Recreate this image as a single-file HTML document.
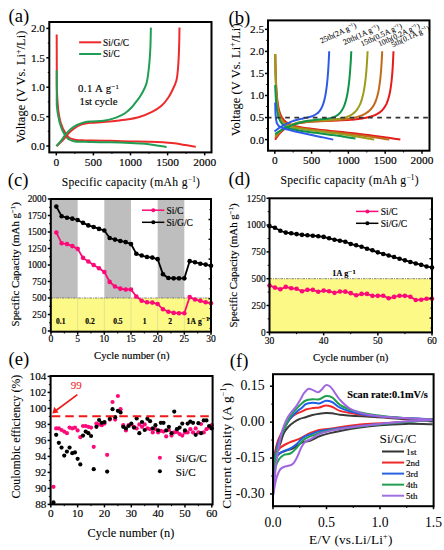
<!DOCTYPE html>
<html><head><meta charset="utf-8"><style>
html,body{margin:0;padding:0;background:#fff;width:444px;height:550px;overflow:hidden}
svg{display:block}
text{font-family:"Liberation Serif", serif;stroke:currentColor}
</style></head><body>
<svg width="444" height="550" viewBox="0 0 444 550">
<rect width="444" height="550" fill="#fff"/>
<path d="M56.70,34.50 C56.73,46.33 56.76,59.85 56.80,70.00 C56.83,77.62 56.63,83.19 56.90,90.00 C57.18,97.11 57.68,105.80 58.50,111.80 C59.09,116.08 59.58,119.22 60.70,122.70 C61.80,126.12 63.46,129.78 65.10,132.50 C66.42,134.69 67.57,136.77 69.40,138.00 C71.21,139.22 73.62,139.49 76.00,139.90 C78.68,140.36 81.93,140.30 84.70,140.40 C87.24,140.49 89.02,140.46 92.00,140.50 C96.72,140.57 104.05,140.66 110.30,140.80 C116.87,140.95 123.83,141.23 130.50,141.40 C137.06,141.56 143.31,141.53 150.00,141.80 C157.11,142.08 165.57,142.44 172.00,143.10 C177.06,143.62 181.32,144.42 185.50,145.10 C189.14,145.69 192.30,146.30 195.70,146.90" fill="none" stroke="#ee2a2a" stroke-width="2"/>
<path d="M56.70,70.20 C56.73,76.80 56.76,83.72 56.80,90.00 C56.83,95.70 56.53,101.42 56.90,106.30 C57.21,110.31 57.82,113.78 58.50,117.20 C59.11,120.31 59.75,123.21 60.70,126.00 C61.60,128.67 62.65,131.36 64.00,133.60 C65.23,135.64 66.58,137.72 68.30,139.00 C69.89,140.18 71.61,140.72 73.80,141.20 C76.77,141.86 81.43,141.64 84.70,141.80 C87.38,141.93 89.02,142.02 92.00,142.10 C96.72,142.22 104.05,142.16 110.30,142.30 C116.87,142.45 124.32,142.72 130.50,143.00 C135.73,143.24 140.26,143.32 145.00,143.80 C149.59,144.27 154.57,145.24 158.50,145.80 C161.54,146.23 163.90,146.53 166.60,146.90" fill="none" stroke="#1f9e54" stroke-width="2"/>
<path d="M56.40,146.10 C58.57,144.10 60.90,142.21 62.90,140.10 C64.86,138.04 66.42,135.55 68.30,133.60 C70.06,131.78 71.81,130.14 73.80,128.70 C75.81,127.24 78.06,125.82 80.30,124.90 C82.43,124.02 84.83,123.57 86.90,123.20 C88.70,122.88 89.96,122.86 92.00,122.70 C95.06,122.46 99.52,122.31 103.50,122.00 C107.82,121.66 113.09,121.11 117.00,120.70 C120.01,120.39 122.00,120.25 125.00,119.80 C128.92,119.22 134.06,118.58 138.50,117.30 C143.07,115.98 147.98,113.97 152.00,111.90 C155.54,110.08 158.77,108.22 161.50,105.80 C164.14,103.46 166.32,100.45 168.20,97.70 C169.93,95.18 171.18,92.74 172.50,90.00 C173.93,87.04 175.46,84.10 176.40,80.50 C177.54,76.14 177.76,70.75 178.20,65.50 C178.69,59.73 178.88,53.49 179.10,47.30 C179.32,40.86 179.37,34.17 179.50,27.60" fill="none" stroke="#ee2a2a" stroke-width="2"/>
<path d="M56.40,146.10 C57.83,144.47 59.30,142.95 60.70,141.20 C62.20,139.33 63.51,137.16 65.10,135.20 C66.76,133.16 68.49,130.92 70.50,129.20 C72.49,127.50 74.75,126.06 77.10,124.90 C79.48,123.72 82.16,122.78 84.70,122.20 C87.13,121.64 89.29,121.63 92.00,121.40 C95.40,121.11 99.87,121.21 103.50,120.70 C106.84,120.23 110.00,119.54 113.00,118.60 C115.85,117.71 118.91,116.33 121.10,115.30 C122.66,114.57 123.58,114.19 125.00,113.20 C127.03,111.79 129.75,109.36 131.80,107.20 C133.81,105.09 135.59,102.56 137.20,100.40 C138.61,98.52 139.72,97.20 141.00,95.00 C142.77,91.96 145.08,87.95 146.40,83.60 C147.99,78.36 148.43,71.55 149.10,65.50 C149.77,59.45 150.10,53.49 150.40,47.30 C150.71,40.87 150.73,34.17 150.90,27.60" fill="none" stroke="#1f9e54" stroke-width="2"/>
<rect x="49.3" y="22" width="162.2" height="130.4" fill="none" stroke="#000" stroke-width="2"/>
<line x1="46.30" y1="146.00" x2="49.30" y2="146.00" stroke="#000" stroke-width="1.5"/>
<text x="45.00" y="149.90" font-size="11.3" text-anchor="end" font-weight="normal" fill="#000" color="#000" stroke-width="0.15" >0.0</text>
<line x1="46.30" y1="116.60" x2="49.30" y2="116.60" stroke="#000" stroke-width="1.5"/>
<text x="45.00" y="120.50" font-size="11.3" text-anchor="end" font-weight="normal" fill="#000" color="#000" stroke-width="0.15" >0.5</text>
<line x1="46.30" y1="87.20" x2="49.30" y2="87.20" stroke="#000" stroke-width="1.5"/>
<text x="45.00" y="91.10" font-size="11.3" text-anchor="end" font-weight="normal" fill="#000" color="#000" stroke-width="0.15" >1.0</text>
<line x1="46.30" y1="57.80" x2="49.30" y2="57.80" stroke="#000" stroke-width="1.5"/>
<text x="45.00" y="61.70" font-size="11.3" text-anchor="end" font-weight="normal" fill="#000" color="#000" stroke-width="0.15" >1.5</text>
<line x1="46.30" y1="28.40" x2="49.30" y2="28.40" stroke="#000" stroke-width="1.5"/>
<text x="45.00" y="32.30" font-size="11.3" text-anchor="end" font-weight="normal" fill="#000" color="#000" stroke-width="0.15" >2.0</text>
<line x1="47.80" y1="131.30" x2="49.30" y2="131.30" stroke="#000" stroke-width="1"/>
<line x1="47.80" y1="101.90" x2="49.30" y2="101.90" stroke="#000" stroke-width="1"/>
<line x1="47.80" y1="72.50" x2="49.30" y2="72.50" stroke="#000" stroke-width="1"/>
<line x1="47.80" y1="43.10" x2="49.30" y2="43.10" stroke="#000" stroke-width="1"/>
<line x1="56.30" y1="152.40" x2="56.30" y2="155.40" stroke="#000" stroke-width="1.5"/>
<text x="56.30" y="166.40" font-size="11.4" text-anchor="middle" font-weight="normal" fill="#000" color="#000" stroke-width="0.15" >0</text>
<line x1="93.40" y1="152.40" x2="93.40" y2="155.40" stroke="#000" stroke-width="1.5"/>
<text x="93.40" y="166.40" font-size="11.4" text-anchor="middle" font-weight="normal" fill="#000" color="#000" stroke-width="0.15" >500</text>
<line x1="130.50" y1="152.40" x2="130.50" y2="155.40" stroke="#000" stroke-width="1.5"/>
<text x="130.50" y="166.40" font-size="11.4" text-anchor="middle" font-weight="normal" fill="#000" color="#000" stroke-width="0.15" >1000</text>
<line x1="167.60" y1="152.40" x2="167.60" y2="155.40" stroke="#000" stroke-width="1.5"/>
<text x="167.60" y="166.40" font-size="11.4" text-anchor="middle" font-weight="normal" fill="#000" color="#000" stroke-width="0.15" >1500</text>
<line x1="204.70" y1="152.40" x2="204.70" y2="155.40" stroke="#000" stroke-width="1.5"/>
<text x="204.70" y="166.40" font-size="11.4" text-anchor="middle" font-weight="normal" fill="#000" color="#000" stroke-width="0.15" >2000</text>
<line x1="74.85" y1="152.40" x2="74.85" y2="153.90" stroke="#000" stroke-width="1"/>
<line x1="111.95" y1="152.40" x2="111.95" y2="153.90" stroke="#000" stroke-width="1"/>
<line x1="149.05" y1="152.40" x2="149.05" y2="153.90" stroke="#000" stroke-width="1"/>
<line x1="186.15" y1="152.40" x2="186.15" y2="153.90" stroke="#000" stroke-width="1"/>
<line x1="79.10" y1="42.30" x2="101.20" y2="42.30" stroke="#ee2a2a" stroke-width="2"/>
<text x="103.10" y="45.80" font-size="9.3" text-anchor="start" font-weight="normal" fill="#000" color="#000" stroke-width="0.15" >Si/G/C</text>
<line x1="79.10" y1="54.00" x2="101.20" y2="54.00" stroke="#1f9e54" stroke-width="2"/>
<text x="103.10" y="57.10" font-size="9.3" text-anchor="start" font-weight="normal" fill="#000" color="#000" stroke-width="0.15" >Si/C</text>
<text x="78.10" y="92.40" font-size="10.8" text-anchor="start" font-weight="normal" fill="#000" stroke-width="0.15" letter-spacing="0.35">0.1 A g<tspan dy="-3.9" font-size="6.7">&#8722;1</tspan><tspan dy="3.9"></tspan></text>
<text x="79.50" y="104.80" font-size="10.8" text-anchor="start" font-weight="normal" fill="#000" color="#000" stroke-width="0.15" >1st cycle</text>
<text x="61.70" y="185.90" font-size="11.6" text-anchor="start" font-weight="normal" fill="#000" stroke-width="0.08" letter-spacing="0.33">Specific capacity (mAh g<tspan dy="-4.2" font-size="7.2">&#8722;1</tspan><tspan dy="4.2">)</tspan></text>
<text transform="translate(25.30,143.00) rotate(-90)" x="0" y="0" font-size="12.4" text-anchor="start" font-weight="normal" fill="#000" stroke-width="0.08" letter-spacing="0.1">Voltage (V Vs. Li<tspan dy="-4.5" font-size="7.7">+</tspan><tspan dy="4.5">/Li)</tspan></text>
<text x="8.60" y="22.30" font-size="18.7" text-anchor="start" font-weight="normal" fill="#000" color="#000" stroke-width="0" >(a)</text>
<path d="M275.20,54.06 C275.20,54.06 275.20,54.07 275.20,54.07 C275.20,54.07 275.20,54.08 275.20,54.08 C275.20,54.09 275.20,54.09 275.20,54.10 C275.20,54.11 275.20,54.11 275.20,54.12 C275.20,54.13 275.20,54.15 275.20,54.16 C275.20,54.17 275.20,54.19 275.20,54.20 C275.20,54.22 275.20,54.23 275.20,54.25 C275.20,54.27 275.21,54.29 275.21,54.31 C275.21,54.34 275.21,54.37 275.21,54.40 C275.21,54.43 275.21,54.47 275.21,54.51 C275.21,54.55 275.21,54.60 275.21,54.65 C275.21,54.71 275.22,54.77 275.22,54.83 C275.22,54.90 275.22,54.98 275.22,55.06 C275.22,55.15 275.23,55.25 275.23,55.36 C275.23,55.48 275.23,55.61 275.23,55.74 C275.23,55.89 275.24,56.05 275.24,56.22 C275.25,56.41 275.26,56.61 275.26,56.83 C275.27,57.07 275.27,57.34 275.27,57.61 C275.28,57.92 275.28,58.24 275.29,58.58 C275.30,58.97 275.31,59.38 275.32,59.81 C275.33,60.29 275.34,60.79 275.35,61.32 C275.36,61.91 275.37,62.53 275.39,63.18 C275.41,63.90 275.43,64.65 275.45,65.44 C275.47,66.30 275.49,67.20 275.52,68.13 C275.55,69.14 275.58,70.21 275.62,71.30 C275.66,72.47 275.70,73.68 275.74,74.93 C275.79,76.25 275.83,77.62 275.89,79.01 C275.95,80.46 276.01,81.96 276.09,83.47 C276.17,85.02 276.25,86.61 276.35,88.20 C276.45,89.81 276.55,91.44 276.68,93.06 C276.80,94.68 276.93,96.31 277.10,97.91 C277.26,99.49 277.45,101.06 277.66,102.59 C277.87,104.07 278.08,105.54 278.36,106.96 C278.63,108.32 278.92,109.66 279.28,110.94 C279.62,112.16 280.00,113.35 280.46,114.47 C280.90,115.54 281.39,116.58 281.98,117.53 C282.56,118.46 283.20,119.34 283.94,120.14 C284.69,120.95 285.53,121.68 286.46,122.33 C287.44,123.02 288.45,123.58 289.72,124.15 C291.35,124.88 293.58,125.59 295.54,126.13 C297.47,126.66 299.42,127.01 301.37,127.37 C303.31,127.73 305.25,128.00 307.19,128.28 C309.13,128.55 311.07,128.79 313.01,129.02 C314.95,129.25 316.90,129.46 318.84,129.67 C320.78,129.88 322.72,130.09 324.66,130.29 C326.60,130.49 328.54,130.68 330.48,130.88 C332.42,131.08 334.37,131.28 336.31,131.48 C338.25,131.68 340.19,131.88 342.13,132.08 C344.07,132.29 346.01,132.50 347.95,132.71 C349.89,132.92 351.84,133.13 353.78,133.35 C355.72,133.57 357.66,133.79 359.60,134.02 C361.54,134.25 363.48,134.48 365.42,134.72 C367.36,134.96 369.31,135.19 371.25,135.44 C373.19,135.69 375.13,135.94 377.07,136.20 C379.01,136.46 380.95,136.73 382.89,137.00 C384.83,137.27 386.78,137.55 388.72,137.83 C390.66,138.11 392.60,138.40 394.54,138.69 C396.48,138.98 398.42,139.29 400.36,139.59" fill="none" stroke="#e51c1c" stroke-width="2"/>
<path d="M275.10,139.70 C276.42,137.82 277.66,135.72 279.05,134.06 C280.31,132.56 281.64,131.26 283.01,130.11 C284.28,129.04 285.61,128.14 286.96,127.34 C288.25,126.58 289.58,125.95 290.92,125.40 C292.22,124.86 293.54,124.43 294.87,124.04 C296.18,123.66 297.51,123.36 298.83,123.09 C300.14,122.82 301.46,122.61 302.78,122.42 C304.09,122.23 305.41,122.09 306.73,121.95 C308.05,121.82 309.37,121.71 310.69,121.61 C312.01,121.51 313.32,121.43 314.64,121.36 C315.96,121.29 317.28,121.23 318.60,121.17 C319.92,121.11 321.23,121.06 322.55,121.01 C323.87,120.96 325.18,120.91 326.50,120.87 C327.82,120.82 329.14,120.79 330.46,120.74 C331.78,120.70 333.09,120.65 334.41,120.60 C335.73,120.55 337.05,120.50 338.37,120.44 C339.69,120.38 341.00,120.33 342.32,120.26 C343.64,120.19 344.96,120.12 346.28,120.04 C347.60,119.96 348.91,119.87 350.23,119.77 C351.55,119.67 352.86,119.57 354.18,119.44 C355.50,119.31 356.82,119.17 358.14,119.01 C359.46,118.85 360.77,118.68 362.09,118.47 C363.41,118.26 364.73,118.04 366.05,117.76 C367.37,117.48 369.18,117.03 370.00,116.81 C370.37,116.71 370.54,116.65 370.81,116.57 C371.08,116.49 371.35,116.41 371.62,116.32 C371.89,116.23 372.16,116.14 372.43,116.05 C372.70,115.96 372.97,115.86 373.24,115.76 C373.51,115.66 373.78,115.55 374.05,115.44 C374.32,115.33 374.59,115.22 374.86,115.10 C375.13,114.98 375.40,114.87 375.67,114.74 C375.94,114.61 376.21,114.48 376.48,114.34 C376.75,114.20 377.02,114.05 377.29,113.90 C377.56,113.75 377.83,113.59 378.10,113.42 C378.37,113.25 378.64,113.08 378.91,112.90 C379.18,112.72 379.45,112.53 379.72,112.33 C379.99,112.13 380.26,111.91 380.53,111.69 C380.80,111.46 381.07,111.23 381.34,110.99 C381.62,110.74 381.89,110.48 382.16,110.20 C382.44,109.92 382.70,109.62 382.97,109.31 C383.25,108.99 383.52,108.65 383.78,108.30 C384.06,107.94 384.33,107.56 384.59,107.16 C384.87,106.74 385.14,106.30 385.40,105.84 C385.68,105.35 385.95,104.85 386.21,104.31 C386.49,103.74 386.76,103.14 387.02,102.51 C387.30,101.83 387.57,101.12 387.83,100.37 C388.11,99.55 388.38,98.69 388.64,97.77 C388.92,96.76 389.19,95.70 389.45,94.56 C389.74,93.29 390.01,91.95 390.26,90.50 C390.55,88.85 390.82,87.10 391.07,85.19 C391.36,82.97 391.63,80.60 391.88,77.97 C392.18,74.82 392.44,71.42 392.69,67.57 C393.00,62.76 393.23,56.74 393.50,51.32" fill="none" stroke="#e51c1c" stroke-width="2"/>
<path d="M275.20,54.05 C275.20,54.06 275.20,54.06 275.20,54.07 C275.20,54.07 275.20,54.08 275.20,54.08 C275.20,54.09 275.20,54.10 275.20,54.11 C275.20,54.12 275.20,54.13 275.20,54.14 C275.20,54.15 275.20,54.16 275.20,54.17 C275.20,54.18 275.20,54.20 275.20,54.22 C275.20,54.24 275.20,54.26 275.20,54.28 C275.20,54.30 275.21,54.33 275.21,54.36 C275.21,54.39 275.21,54.43 275.21,54.47 C275.21,54.51 275.21,54.55 275.21,54.60 C275.21,54.65 275.21,54.71 275.21,54.77 C275.21,54.84 275.22,54.91 275.22,54.99 C275.22,55.08 275.22,55.17 275.22,55.27 C275.22,55.38 275.23,55.50 275.23,55.62 C275.23,55.76 275.23,55.92 275.23,56.08 C275.23,56.26 275.24,56.46 275.24,56.66 C275.25,56.89 275.26,57.13 275.26,57.39 C275.27,57.68 275.27,57.99 275.27,58.31 C275.28,58.67 275.28,59.06 275.29,59.47 C275.30,59.92 275.31,60.41 275.32,60.91 C275.33,61.47 275.34,62.06 275.35,62.68 C275.36,63.36 275.37,64.08 275.39,64.83 C275.41,65.65 275.43,66.51 275.45,67.41 C275.47,68.38 275.49,69.41 275.52,70.46 C275.55,71.59 275.58,72.77 275.62,73.98 C275.66,75.26 275.70,76.59 275.74,77.95 C275.79,79.37 275.83,80.84 275.89,82.32 C275.95,83.85 276.01,85.42 276.09,86.99 C276.17,88.59 276.25,90.22 276.35,91.83 C276.45,93.45 276.55,95.07 276.68,96.68 C276.80,98.27 276.93,99.86 277.10,101.41 C277.26,102.92 277.44,104.41 277.66,105.86 C277.87,107.25 278.08,108.62 278.36,109.94 C278.63,111.20 278.92,112.43 279.28,113.59 C279.62,114.69 280.00,115.76 280.46,116.76 C280.90,117.72 281.39,118.64 281.98,119.48 C282.56,120.31 283.20,121.08 283.94,121.78 C284.69,122.49 285.54,123.13 286.46,123.70 C287.45,124.31 288.48,124.82 289.72,125.31 C291.24,125.92 293.20,126.49 294.96,126.94 C296.70,127.39 298.46,127.71 300.21,128.03 C301.95,128.35 303.70,128.60 305.45,128.86 C307.20,129.12 308.94,129.35 310.69,129.57 C312.44,129.79 314.18,130.00 315.93,130.20 C317.68,130.40 319.43,130.59 321.18,130.79 C322.93,130.99 324.67,131.18 326.42,131.38 C328.17,131.57 329.91,131.77 331.66,131.96 C333.41,132.15 335.15,132.34 336.90,132.54 C338.65,132.74 340.40,132.95 342.15,133.15 C343.90,133.35 345.64,133.55 347.39,133.76 C349.14,133.97 350.88,134.18 352.63,134.40 C354.38,134.62 356.12,134.85 357.87,135.07 C359.62,135.30 361.37,135.52 363.12,135.75 C364.87,135.98 366.61,136.23 368.36,136.47 C370.11,136.71 371.85,136.96 373.60,137.21 C375.35,137.46 377.09,137.72 378.84,137.98 C380.59,138.24 382.34,138.51 384.09,138.78 C385.84,139.05 387.58,139.33 389.33,139.61" fill="none" stroke="#c26a1a" stroke-width="2"/>
<path d="M275.10,137.89 C276.29,136.32 277.43,134.57 278.68,133.18 C279.82,131.91 281.03,130.81 282.26,129.83 C283.41,128.91 284.61,128.13 285.83,127.44 C287.00,126.77 288.20,126.22 289.41,125.73 C290.59,125.25 291.79,124.86 292.99,124.50 C294.17,124.15 295.36,123.87 296.56,123.61 C297.75,123.35 298.94,123.15 300.14,122.96 C301.33,122.77 302.53,122.62 303.72,122.48 C304.91,122.34 306.11,122.22 307.30,122.11 C308.49,122.00 309.69,121.90 310.88,121.81 C312.07,121.72 313.26,121.65 314.45,121.57 C315.64,121.49 316.84,121.42 318.03,121.35 C319.22,121.28 320.42,121.22 321.61,121.15 C322.80,121.08 323.99,121.01 325.18,120.94 C326.37,120.87 327.57,120.80 328.76,120.72 C329.95,120.64 331.15,120.57 332.34,120.48 C333.53,120.39 334.73,120.30 335.92,120.20 C337.11,120.10 338.31,120.00 339.50,119.88 C340.69,119.76 341.88,119.64 343.07,119.50 C344.26,119.36 345.46,119.21 346.65,119.04 C347.84,118.87 349.04,118.69 350.23,118.48 C351.42,118.27 352.61,118.04 353.80,117.77 C355.00,117.50 356.19,117.22 357.38,116.87 C358.58,116.52 360.22,115.95 360.96,115.68 C361.30,115.56 361.45,115.49 361.69,115.39 C361.93,115.29 362.18,115.19 362.42,115.08 C362.67,114.97 362.91,114.86 363.16,114.75 C363.40,114.64 363.65,114.52 363.89,114.40 C364.13,114.28 364.38,114.15 364.62,114.02 C364.86,113.89 365.11,113.75 365.35,113.61 C365.60,113.47 365.85,113.32 366.09,113.17 C366.34,113.02 366.58,112.86 366.82,112.69 C367.06,112.52 367.31,112.35 367.55,112.17 C367.79,111.99 368.04,111.80 368.28,111.61 C368.53,111.41 368.78,111.21 369.02,111.00 C369.27,110.79 369.51,110.56 369.75,110.33 C370.00,110.09 370.24,109.85 370.48,109.59 C370.73,109.33 370.97,109.05 371.21,108.77 C371.46,108.48 371.71,108.18 371.95,107.86 C372.20,107.53 372.44,107.19 372.68,106.84 C372.93,106.48 373.17,106.10 373.41,105.71 C373.66,105.30 373.90,104.87 374.14,104.42 C374.39,103.95 374.64,103.46 374.88,102.95 C375.13,102.41 375.37,101.84 375.61,101.25 C375.86,100.62 376.11,99.97 376.34,99.29 C376.59,98.55 376.83,97.78 377.07,96.97 C377.33,96.09 377.58,95.18 377.81,94.21 C378.07,93.15 378.31,92.04 378.54,90.86 C378.80,89.56 379.04,88.19 379.27,86.72 C379.53,85.07 379.77,83.33 380.00,81.45 C380.26,79.30 380.51,77.02 380.74,74.53 C381.01,71.62 381.25,68.50 381.47,65.05 C381.74,60.89 381.96,55.88 382.20,51.29" fill="none" stroke="#c26a1a" stroke-width="2"/>
<path d="M275.20,54.05 C275.20,54.06 275.20,54.06 275.20,54.07 C275.20,54.08 275.20,54.08 275.20,54.09 C275.20,54.10 275.20,54.11 275.20,54.12 C275.20,54.13 275.20,54.14 275.20,54.15 C275.20,54.16 275.20,54.18 275.20,54.20 C275.20,54.22 275.20,54.24 275.20,54.26 C275.20,54.28 275.20,54.30 275.20,54.33 C275.20,54.36 275.21,54.39 275.21,54.43 C275.21,54.47 275.21,54.51 275.21,54.56 C275.21,54.61 275.21,54.66 275.21,54.72 C275.21,54.79 275.21,54.86 275.21,54.93 C275.21,55.01 275.22,55.10 275.22,55.19 C275.22,55.30 275.22,55.41 275.22,55.53 C275.22,55.66 275.23,55.81 275.23,55.96 C275.23,56.13 275.23,56.32 275.23,56.51 C275.23,56.73 275.24,56.96 275.24,57.21 C275.25,57.49 275.26,57.78 275.26,58.09 C275.27,58.44 275.27,58.81 275.27,59.20 C275.28,59.63 275.28,60.09 275.29,60.57 C275.30,61.11 275.31,61.68 275.32,62.27 C275.33,62.93 275.34,63.62 275.35,64.34 C275.36,65.13 275.37,65.96 275.39,66.83 C275.41,67.77 275.43,68.77 275.45,69.79 C275.47,70.89 275.49,72.03 275.52,73.21 C275.55,74.46 275.58,75.77 275.62,77.10 C275.66,78.50 275.70,79.94 275.74,81.40 C275.79,82.91 275.83,84.47 275.89,86.03 C275.95,87.62 276.01,89.25 276.09,90.86 C276.17,92.48 276.25,94.12 276.35,95.74 C276.45,97.34 276.55,98.95 276.68,100.52 C276.80,102.05 276.93,103.58 277.10,105.06 C277.26,106.48 277.44,107.89 277.66,109.24 C277.87,110.53 278.08,111.79 278.36,112.99 C278.62,114.13 278.92,115.23 279.28,116.27 C279.62,117.25 280.00,118.20 280.46,119.08 C280.90,119.93 281.40,120.73 281.98,121.46 C282.56,122.18 283.21,122.84 283.94,123.44 C284.70,124.06 285.54,124.60 286.46,125.09 C287.46,125.62 288.53,126.06 289.72,126.47 C291.07,126.94 292.68,127.36 294.17,127.71 C295.65,128.06 297.13,128.33 298.62,128.59 C300.10,128.85 301.58,129.07 303.06,129.29 C304.54,129.51 306.03,129.71 307.51,129.91 C308.99,130.11 310.48,130.28 311.96,130.47 C313.44,130.65 314.93,130.84 316.41,131.02 C317.89,131.20 319.38,131.38 320.86,131.56 C322.34,131.74 323.82,131.93 325.30,132.11 C326.78,132.30 328.27,132.48 329.75,132.67 C331.23,132.86 332.72,133.05 334.20,133.24 C335.68,133.44 337.17,133.64 338.65,133.84 C340.13,134.04 341.61,134.25 343.09,134.46 C344.57,134.67 346.06,134.89 347.54,135.11 C349.02,135.33 350.51,135.56 351.99,135.79 C353.47,136.02 354.96,136.25 356.44,136.49 C357.92,136.73 359.40,136.98 360.88,137.23 C362.36,137.48 363.85,137.73 365.33,137.99 C366.81,138.25 368.30,138.52 369.78,138.79 C371.26,139.06 372.75,139.34 374.23,139.61" fill="none" stroke="#9c9c1c" stroke-width="2"/>
<path d="M275.10,136.03 C276.13,135.00 277.14,133.90 278.19,132.94 C279.20,132.02 280.23,131.17 281.28,130.38 C282.29,129.61 283.33,128.91 284.37,128.25 C285.39,127.61 286.42,127.03 287.46,126.49 C288.48,125.97 289.51,125.50 290.55,125.06 C291.57,124.63 292.61,124.24 293.65,123.89 C294.67,123.54 295.71,123.24 296.74,122.96 C297.77,122.68 298.80,122.43 299.83,122.21 C300.86,121.99 301.89,121.80 302.92,121.62 C303.95,121.45 304.98,121.30 306.01,121.16 C307.04,121.03 308.07,120.91 309.10,120.81 C310.13,120.71 311.16,120.62 312.19,120.54 C313.22,120.46 314.25,120.39 315.28,120.33 C316.31,120.27 317.34,120.22 318.37,120.17 C319.40,120.12 320.43,120.08 321.46,120.04 C322.49,120.00 323.52,119.96 324.55,119.92 C325.58,119.88 326.61,119.83 327.64,119.78 C328.67,119.73 329.71,119.68 330.74,119.62 C331.77,119.56 332.80,119.49 333.83,119.40 C334.86,119.31 335.89,119.21 336.92,119.09 C337.95,118.97 338.98,118.83 340.01,118.66 C341.04,118.49 342.07,118.29 343.10,118.05 C344.13,117.80 345.17,117.54 346.19,117.19 C347.23,116.84 348.64,116.23 349.28,115.95 C349.57,115.82 349.70,115.75 349.91,115.64 C350.12,115.53 350.33,115.42 350.54,115.30 C350.75,115.18 350.97,115.06 351.18,114.93 C351.39,114.80 351.60,114.68 351.81,114.54 C352.02,114.40 352.23,114.26 352.44,114.11 C352.65,113.96 352.86,113.80 353.07,113.64 C353.28,113.48 353.49,113.31 353.70,113.13 C353.91,112.95 354.12,112.77 354.33,112.58 C354.54,112.39 354.76,112.19 354.97,111.98 C355.18,111.77 355.39,111.55 355.60,111.32 C355.81,111.09 356.02,110.84 356.23,110.59 C356.44,110.33 356.65,110.07 356.86,109.79 C357.07,109.51 357.28,109.21 357.49,108.91 C357.70,108.60 357.91,108.27 358.12,107.94 C358.34,107.59 358.55,107.23 358.76,106.86 C358.98,106.47 359.18,106.07 359.39,105.66 C359.61,105.23 359.81,104.78 360.02,104.31 C360.24,103.82 360.45,103.32 360.65,102.79 C360.87,102.23 361.08,101.66 361.28,101.06 C361.50,100.43 361.70,99.78 361.91,99.10 C362.13,98.38 362.35,97.62 362.55,96.84 C362.77,96.00 362.98,95.13 363.18,94.22 C363.40,93.24 363.61,92.23 363.81,91.16 C364.03,90.00 364.24,88.79 364.44,87.52 C364.66,86.13 364.87,84.68 365.07,83.15 C365.29,81.46 365.50,79.69 365.70,77.81 C365.92,75.71 366.14,73.50 366.34,71.14 C366.57,68.47 366.77,65.64 366.97,62.59 C367.20,59.08 367.39,55.03 367.60,51.25" fill="none" stroke="#9c9c1c" stroke-width="2"/>
<path d="M275.20,84.92 C275.20,84.92 275.20,84.93 275.20,84.93 C275.20,84.93 275.20,84.93 275.20,84.93 C275.20,84.93 275.20,84.94 275.20,84.94 C275.20,84.95 275.20,84.95 275.20,84.96 C275.20,84.96 275.20,84.97 275.20,84.97 C275.20,84.98 275.20,84.99 275.20,85.00 C275.20,85.01 275.20,85.01 275.20,85.02 C275.20,85.03 275.21,85.05 275.21,85.06 C275.21,85.08 275.21,85.09 275.21,85.11 C275.21,85.13 275.21,85.15 275.21,85.17 C275.21,85.19 275.21,85.21 275.21,85.24 C275.21,85.27 275.22,85.30 275.22,85.34 C275.22,85.38 275.22,85.42 275.22,85.47 C275.22,85.52 275.23,85.57 275.23,85.63 C275.23,85.70 275.23,85.77 275.23,85.84 C275.23,85.92 275.24,86.01 275.24,86.10 C275.25,86.21 275.26,86.32 275.26,86.44 C275.27,86.57 275.27,86.72 275.27,86.87 C275.28,87.04 275.28,87.22 275.29,87.41 C275.30,87.62 275.31,87.84 275.32,88.08 C275.33,88.35 275.34,88.63 275.35,88.93 C275.36,89.26 275.37,89.61 275.39,89.97 C275.41,90.37 275.43,90.80 275.45,91.24 C275.47,91.73 275.49,92.24 275.52,92.77 C275.55,93.35 275.58,93.96 275.62,94.59 C275.66,95.27 275.70,95.97 275.74,96.70 C275.79,97.48 275.83,98.29 275.89,99.11 C275.95,99.97 276.02,100.87 276.09,101.77 C276.17,102.71 276.25,103.68 276.35,104.65 C276.45,105.64 276.56,106.65 276.68,107.65 C276.81,108.66 276.94,109.69 277.10,110.70 C277.26,111.71 277.45,112.72 277.66,113.70 C277.87,114.67 278.09,115.63 278.36,116.55 C278.63,117.45 278.92,118.34 279.28,119.18 C279.63,120.00 280.01,120.81 280.46,121.56 C280.91,122.30 281.41,123.00 281.98,123.65 C282.56,124.31 283.22,124.91 283.94,125.46 C284.70,126.04 285.55,126.55 286.46,127.01 C287.46,127.52 288.61,127.95 289.72,128.34 C290.85,128.73 292.02,129.04 293.18,129.33 C294.33,129.62 295.49,129.86 296.65,130.09 C297.80,130.32 298.96,130.52 300.11,130.71 C301.26,130.90 302.42,131.08 303.57,131.25 C304.72,131.42 305.88,131.58 307.03,131.74 C308.18,131.90 309.34,132.05 310.49,132.20 C311.64,132.35 312.80,132.50 313.95,132.65 C315.11,132.80 316.26,132.94 317.42,133.09 C318.57,133.24 319.73,133.38 320.88,133.53 C322.03,133.68 323.19,133.82 324.34,133.97 C325.49,134.12 326.65,134.27 327.80,134.42 C328.95,134.57 330.11,134.73 331.26,134.89 C332.42,135.05 333.57,135.20 334.73,135.36 C335.88,135.52 337.04,135.68 338.19,135.85 C339.34,136.02 340.50,136.19 341.65,136.36 C342.80,136.53 343.96,136.70 345.11,136.88 C346.26,137.06 347.42,137.24 348.57,137.42 C349.73,137.60 350.88,137.78 352.04,137.97 C353.19,138.16 354.35,138.36 355.50,138.55" fill="none" stroke="#0f9448" stroke-width="2"/>
<path d="M275.10,134.10 C275.95,133.55 276.80,132.98 277.65,132.45 C278.50,131.92 279.35,131.41 280.20,130.91 C281.04,130.42 281.89,129.95 282.74,129.49 C283.59,129.03 284.44,128.59 285.29,128.17 C286.14,127.75 286.99,127.35 287.84,126.97 C288.69,126.59 289.54,126.22 290.39,125.87 C291.23,125.52 292.08,125.19 292.93,124.87 C293.78,124.55 294.63,124.25 295.48,123.97 C296.33,123.69 297.18,123.42 298.03,123.17 C298.88,122.92 299.73,122.68 300.58,122.46 C301.43,122.24 302.27,122.03 303.12,121.84 C303.97,121.65 304.82,121.47 305.67,121.30 C306.52,121.14 307.37,120.99 308.22,120.85 C309.07,120.71 309.92,120.58 310.77,120.46 C311.62,120.34 312.46,120.22 313.31,120.12 C314.16,120.02 315.01,119.93 315.86,119.84 C316.71,119.75 317.56,119.67 318.41,119.59 C319.26,119.51 320.11,119.44 320.96,119.36 C321.81,119.28 322.65,119.20 323.50,119.11 C324.35,119.02 325.20,118.92 326.05,118.81 C326.90,118.69 327.75,118.57 328.60,118.42 C329.45,118.26 330.31,118.10 331.15,117.88 C332.00,117.66 332.85,117.41 333.69,117.08 C334.55,116.74 335.72,116.16 336.24,115.88 C336.48,115.75 336.59,115.67 336.76,115.56 C336.93,115.45 337.11,115.34 337.28,115.22 C337.45,115.10 337.63,114.98 337.80,114.85 C337.97,114.72 338.15,114.58 338.32,114.44 C338.50,114.30 338.67,114.15 338.84,113.99 C339.02,113.83 339.19,113.67 339.36,113.50 C339.54,113.33 339.71,113.15 339.88,112.97 C340.05,112.78 340.22,112.58 340.39,112.38 C340.56,112.17 340.74,111.95 340.91,111.73 C341.09,111.50 341.26,111.26 341.43,111.01 C341.61,110.76 341.78,110.50 341.95,110.23 C342.13,109.95 342.30,109.66 342.47,109.36 C342.65,109.05 342.82,108.72 342.99,108.39 C343.17,108.04 343.34,107.69 343.51,107.32 C343.69,106.94 343.86,106.54 344.03,106.13 C344.21,105.70 344.38,105.26 344.55,104.80 C344.73,104.32 344.90,103.81 345.07,103.30 C345.25,102.76 345.42,102.21 345.59,101.63 C345.77,101.02 345.94,100.38 346.11,99.73 C346.29,99.04 346.46,98.32 346.63,97.58 C346.81,96.79 346.98,95.97 347.15,95.12 C347.33,94.21 347.49,93.27 347.66,92.30 C347.84,91.25 348.01,90.17 348.18,89.04 C348.36,87.82 348.53,86.56 348.70,85.24 C348.88,83.81 349.05,82.33 349.22,80.77 C349.40,79.07 349.57,77.30 349.74,75.44 C349.92,73.40 350.09,71.26 350.26,69.00 C350.44,66.50 350.62,63.89 350.78,61.11 C350.96,58.00 351.13,54.52 351.30,51.23" fill="none" stroke="#0f9448" stroke-width="2"/>
<path d="M275.20,102.55 C275.20,102.55 275.20,102.56 275.20,102.56 C275.20,102.56 275.20,102.57 275.20,102.57 C275.20,102.58 275.20,102.58 275.20,102.59 C275.20,102.60 275.20,102.61 275.20,102.62 C275.20,102.63 275.20,102.64 275.20,102.65 C275.20,102.66 275.20,102.68 275.20,102.70 C275.20,102.72 275.20,102.73 275.20,102.75 C275.20,102.77 275.21,102.80 275.21,102.82 C275.21,102.85 275.21,102.88 275.21,102.91 C275.21,102.94 275.21,102.98 275.21,103.02 C275.21,103.07 275.21,103.12 275.21,103.17 C275.21,103.23 275.22,103.29 275.22,103.35 C275.22,103.42 275.22,103.51 275.22,103.59 C275.22,103.68 275.23,103.78 275.23,103.88 C275.23,104.00 275.23,104.12 275.23,104.25 C275.23,104.40 275.24,104.56 275.24,104.72 C275.25,104.90 275.26,105.08 275.26,105.28 C275.27,105.50 275.27,105.74 275.27,105.98 C275.28,106.24 275.28,106.52 275.29,106.81 C275.30,107.13 275.31,107.46 275.32,107.80 C275.33,108.17 275.34,108.55 275.35,108.95 C275.36,109.37 275.37,109.81 275.39,110.25 C275.41,110.72 275.43,111.20 275.45,111.69 C275.47,112.20 275.49,112.72 275.52,113.24 C275.55,113.77 275.58,114.32 275.62,114.86 C275.66,115.40 275.69,115.95 275.74,116.49 C275.78,117.03 275.83,117.57 275.89,118.10 C275.95,118.62 276.01,119.13 276.09,119.63 C276.17,120.12 276.25,120.60 276.35,121.06 C276.45,121.50 276.55,121.93 276.68,122.35 C276.80,122.75 276.93,123.14 277.10,123.51 C277.26,123.87 277.45,124.22 277.66,124.54 C277.87,124.86 278.10,125.17 278.36,125.45 C278.63,125.74 278.94,126.01 279.28,126.26 C279.64,126.53 280.03,126.77 280.46,127.01 C280.93,127.27 281.44,127.50 281.98,127.73 C282.59,127.99 283.24,128.22 283.94,128.46 C284.72,128.72 285.56,128.97 286.46,129.22 C287.47,129.51 288.73,129.83 289.72,130.08 C290.55,130.29 291.25,130.46 292.01,130.64 C292.78,130.82 293.54,131.00 294.31,131.18 C295.07,131.36 295.84,131.53 296.60,131.70 C297.36,131.87 298.13,132.04 298.89,132.21 C299.65,132.38 300.42,132.55 301.18,132.72 C301.95,132.89 302.71,133.05 303.48,133.22 C304.24,133.39 305.01,133.55 305.77,133.72 C306.53,133.88 307.30,134.05 308.06,134.21 C308.83,134.37 309.59,134.54 310.36,134.70 C311.12,134.86 311.89,135.03 312.65,135.19 C313.41,135.35 314.18,135.52 314.94,135.68 C315.70,135.84 316.47,136.01 317.23,136.17 C318.00,136.33 318.76,136.50 319.53,136.66 C320.29,136.82 321.06,136.99 321.82,137.15 C322.58,137.31 323.35,137.48 324.11,137.64 C324.87,137.80 325.64,137.97 326.40,138.13 C327.17,138.29 327.93,138.46 328.70,138.62 C329.46,138.78 330.23,138.95 330.99,139.11 C331.75,139.28 332.52,139.44 333.28,139.61" fill="none" stroke="#2f5ae8" stroke-width="2"/>
<path d="M274.50,131.42 C275.11,130.95 275.72,130.47 276.34,130.01 C276.95,129.56 277.55,129.11 278.17,128.68 C278.78,128.26 279.39,127.85 280.01,127.45 C280.62,127.06 281.23,126.67 281.84,126.30 C282.45,125.93 283.06,125.58 283.68,125.24 C284.29,124.90 284.91,124.58 285.52,124.27 C286.13,123.96 286.74,123.66 287.35,123.37 C287.96,123.09 288.58,122.82 289.19,122.56 C289.80,122.30 290.41,122.05 291.02,121.81 C291.63,121.57 292.25,121.35 292.86,121.14 C293.47,120.93 294.08,120.73 294.69,120.54 C295.30,120.35 295.92,120.17 296.53,120.00 C297.14,119.83 297.76,119.66 298.37,119.50 C298.98,119.34 299.59,119.20 300.20,119.06 C300.81,118.92 301.43,118.78 302.04,118.65 C302.65,118.52 303.26,118.39 303.87,118.26 C304.48,118.13 305.10,118.00 305.71,117.87 C306.32,117.74 306.93,117.61 307.54,117.47 C308.15,117.33 308.77,117.18 309.38,117.02 C309.99,116.86 310.61,116.70 311.22,116.50 C311.83,116.30 312.44,116.09 313.05,115.84 C313.67,115.58 314.29,115.31 314.89,114.98 C315.51,114.64 316.13,114.27 316.72,113.82 C317.35,113.34 318.19,112.56 318.56,112.19 C318.74,112.02 318.81,111.93 318.93,111.79 C319.05,111.65 319.17,111.52 319.29,111.37 C319.41,111.22 319.54,111.06 319.66,110.90 C319.78,110.74 319.91,110.57 320.03,110.40 C320.15,110.23 320.27,110.05 320.39,109.87 C320.51,109.68 320.64,109.48 320.76,109.28 C320.88,109.07 321.01,108.87 321.13,108.65 C321.26,108.43 321.38,108.20 321.50,107.97 C321.62,107.73 321.74,107.47 321.86,107.22 C321.98,106.96 322.11,106.69 322.23,106.42 C322.36,106.13 322.48,105.83 322.60,105.53 C322.72,105.22 322.84,104.90 322.96,104.57 C323.08,104.23 323.21,103.88 323.33,103.52 C323.46,103.14 323.58,102.76 323.70,102.36 C323.82,101.95 323.94,101.52 324.06,101.09 C324.18,100.63 324.31,100.16 324.43,99.68 C324.56,99.18 324.68,98.66 324.80,98.13 C324.93,97.57 325.04,96.99 325.16,96.40 C325.28,95.78 325.41,95.14 325.53,94.48 C325.66,93.78 325.78,93.07 325.90,92.33 C326.03,91.55 326.14,90.74 326.26,89.91 C326.39,89.03 326.51,88.11 326.63,87.17 C326.76,86.17 326.88,85.13 327.00,84.06 C327.13,82.91 327.25,81.73 327.37,80.50 C327.50,79.18 327.61,77.81 327.73,76.39 C327.86,74.86 327.98,73.27 328.10,71.61 C328.23,69.82 328.35,67.95 328.47,66.00 C328.60,63.87 328.71,61.64 328.83,59.31 C328.96,56.75 329.08,53.93 329.20,51.24" fill="none" stroke="#2f5ae8" stroke-width="2"/>
<line x1="269" y1="117.6" x2="428.5" y2="117.6" stroke="#333" stroke-width="1.8" stroke-dasharray="4.7 4.5" stroke-dashoffset="2.2"/>
<text transform="translate(321.50,43.60) rotate(-25)" font-size="7.8" style="stroke-width:0.05px">25th(2A g<tspan dy="-2.8" font-size="4.8">&#8722;1</tspan><tspan dy="2.8">)</tspan></text>
<text transform="translate(344.40,45.10) rotate(-25)" font-size="7.8" style="stroke-width:0.05px">20th(1A g<tspan dy="-2.8" font-size="4.8">&#8722;1</tspan><tspan dy="2.8">)</tspan></text>
<text transform="translate(361.90,46.60) rotate(-25)" font-size="7.8" style="stroke-width:0.05px">15th(0.5A g<tspan dy="-2.8" font-size="4.8">&#8722;1</tspan><tspan dy="2.8">)</tspan></text>
<text transform="translate(379.50,46.60) rotate(-25)" font-size="7.8" style="stroke-width:0.05px">10th(0.2A g<tspan dy="-2.8" font-size="4.8">&#8722;1</tspan><tspan dy="2.8">)</tspan></text>
<text transform="translate(392.80,47.40) rotate(-25)" font-size="7.8" style="stroke-width:0.05px">5th(0.1A g<tspan dy="-2.8" font-size="4.8">&#8722;1</tspan><tspan dy="2.8">)</tspan></text>
<rect x="268" y="20.4" width="161.5" height="130.29999999999998" fill="none" stroke="#000" stroke-width="2"/>
<line x1="266.20" y1="128.57" x2="268.00" y2="128.57" stroke="#000" stroke-width="1"/>
<line x1="266.20" y1="106.52" x2="268.00" y2="106.52" stroke="#000" stroke-width="1"/>
<line x1="266.20" y1="84.47" x2="268.00" y2="84.47" stroke="#000" stroke-width="1"/>
<line x1="266.20" y1="62.42" x2="268.00" y2="62.42" stroke="#000" stroke-width="1"/>
<line x1="266.20" y1="40.37" x2="268.00" y2="40.37" stroke="#000" stroke-width="1"/>
<line x1="293.20" y1="150.70" x2="293.20" y2="152.50" stroke="#000" stroke-width="1"/>
<line x1="330.00" y1="150.70" x2="330.00" y2="152.50" stroke="#000" stroke-width="1"/>
<line x1="366.80" y1="150.70" x2="366.80" y2="152.50" stroke="#000" stroke-width="1"/>
<line x1="403.60" y1="150.70" x2="403.60" y2="152.50" stroke="#000" stroke-width="1"/>
<line x1="265.00" y1="139.60" x2="268.00" y2="139.60" stroke="#000" stroke-width="1.5"/>
<text x="264.20" y="143.50" font-size="11.3" text-anchor="end" font-weight="normal" fill="#000" color="#000" stroke-width="0.15" >0.0</text>
<line x1="265.00" y1="117.55" x2="268.00" y2="117.55" stroke="#000" stroke-width="1.5"/>
<text x="264.20" y="121.45" font-size="11.3" text-anchor="end" font-weight="normal" fill="#000" color="#000" stroke-width="0.15" >0.5</text>
<line x1="265.00" y1="95.50" x2="268.00" y2="95.50" stroke="#000" stroke-width="1.5"/>
<text x="264.20" y="99.40" font-size="11.3" text-anchor="end" font-weight="normal" fill="#000" color="#000" stroke-width="0.15" >1.0</text>
<line x1="265.00" y1="73.45" x2="268.00" y2="73.45" stroke="#000" stroke-width="1.5"/>
<text x="264.20" y="77.35" font-size="11.3" text-anchor="end" font-weight="normal" fill="#000" color="#000" stroke-width="0.15" >1.5</text>
<line x1="265.00" y1="51.40" x2="268.00" y2="51.40" stroke="#000" stroke-width="1.5"/>
<text x="264.20" y="55.30" font-size="11.3" text-anchor="end" font-weight="normal" fill="#000" color="#000" stroke-width="0.15" >2.0</text>
<line x1="265.00" y1="29.35" x2="268.00" y2="29.35" stroke="#000" stroke-width="1.5"/>
<text x="264.20" y="33.25" font-size="11.3" text-anchor="end" font-weight="normal" fill="#000" color="#000" stroke-width="0.15" >2.5</text>
<line x1="274.80" y1="150.70" x2="274.80" y2="153.70" stroke="#000" stroke-width="1.5"/>
<text x="274.80" y="164.40" font-size="11.4" text-anchor="middle" font-weight="normal" fill="#000" color="#000" stroke-width="0.15" >0</text>
<line x1="311.60" y1="150.70" x2="311.60" y2="153.70" stroke="#000" stroke-width="1.5"/>
<text x="311.60" y="164.40" font-size="11.4" text-anchor="middle" font-weight="normal" fill="#000" color="#000" stroke-width="0.15" >500</text>
<line x1="348.40" y1="150.70" x2="348.40" y2="153.70" stroke="#000" stroke-width="1.5"/>
<text x="348.40" y="164.40" font-size="11.4" text-anchor="middle" font-weight="normal" fill="#000" color="#000" stroke-width="0.15" >1000</text>
<line x1="385.20" y1="150.70" x2="385.20" y2="153.70" stroke="#000" stroke-width="1.5"/>
<text x="385.20" y="164.40" font-size="11.4" text-anchor="middle" font-weight="normal" fill="#000" color="#000" stroke-width="0.15" >1500</text>
<line x1="422.00" y1="150.70" x2="422.00" y2="153.70" stroke="#000" stroke-width="1.5"/>
<text x="422.00" y="164.40" font-size="11.4" text-anchor="middle" font-weight="normal" fill="#000" color="#000" stroke-width="0.15" >2000</text>
<text x="280.40" y="183.90" font-size="11.6" text-anchor="start" font-weight="normal" fill="#000" stroke-width="0.08" letter-spacing="0.33">Specific capacity (mAh g<tspan dy="-4.2" font-size="7.2">&#8722;1</tspan><tspan dy="4.2">)</tspan></text>
<text transform="translate(239.80,135.90) rotate(-90)" x="0" y="0" font-size="12.4" text-anchor="start" font-weight="normal" fill="#000" stroke-width="0.08" letter-spacing="0.1">Voltage (V Vs. Li<tspan dy="-4.5" font-size="7.7">+</tspan><tspan dy="4.5">/Li)</tspan></text>
<text x="228.50" y="23.60" font-size="18.7" text-anchor="start" font-weight="normal" fill="#000" color="#000" stroke-width="0" >(b)</text>
<rect x="51.00" y="199.00" width="26.67" height="99.00" fill="#bebebe"/>
<rect x="104.33" y="199.00" width="26.67" height="99.00" fill="#bebebe"/>
<rect x="157.67" y="199.00" width="26.67" height="99.00" fill="#bebebe"/>
<rect x="50.80" y="298.00" width="160.20" height="33.70" fill="#fcf986"/>
<line x1="77.67" y1="298.00" x2="77.67" y2="331.70" stroke="#d8d490" stroke-width="0.6"/>
<line x1="104.33" y1="298.00" x2="104.33" y2="331.70" stroke="#d8d490" stroke-width="0.6"/>
<line x1="131.00" y1="298.00" x2="131.00" y2="331.70" stroke="#d8d490" stroke-width="0.6"/>
<line x1="157.67" y1="298.00" x2="157.67" y2="331.70" stroke="#d8d490" stroke-width="0.6"/>
<line x1="184.33" y1="298.00" x2="184.33" y2="331.70" stroke="#d8d490" stroke-width="0.6"/>
<line x1="50.8" y1="298.00" x2="211" y2="298.00" stroke="#707070" stroke-width="0.9" stroke-dasharray="2.5 1 1 1"/>
<path d="M56.33,232.53 L61.67,243.29 L67.00,244.08 L72.33,246.12 L77.67,248.83 L83.00,257.87 L88.33,261.50 L93.67,265.00 L99.00,268.23 L104.33,271.93 L109.67,281.90 L115.00,286.52 L120.33,288.63 L125.67,289.49 L131.00,289.49 L136.33,296.48 L141.67,300.77 L147.00,302.29 L152.33,302.62 L157.67,304.07 L163.00,309.29 L168.33,311.73 L173.67,312.92 L179.00,313.18 L184.33,313.18 L189.67,297.08 L195.00,299.52 L200.33,300.77 L205.67,302.29 L211.00,303.21" fill="none" stroke="#fb0a78" stroke-width="1.8"/>
<circle cx="56.33" cy="232.53" r="2.3" fill="#fb0a78"/>
<circle cx="61.67" cy="243.29" r="2.3" fill="#fb0a78"/>
<circle cx="67.00" cy="244.08" r="2.3" fill="#fb0a78"/>
<circle cx="72.33" cy="246.12" r="2.3" fill="#fb0a78"/>
<circle cx="77.67" cy="248.83" r="2.3" fill="#fb0a78"/>
<circle cx="83.00" cy="257.87" r="2.3" fill="#fb0a78"/>
<circle cx="88.33" cy="261.50" r="2.3" fill="#fb0a78"/>
<circle cx="93.67" cy="265.00" r="2.3" fill="#fb0a78"/>
<circle cx="99.00" cy="268.23" r="2.3" fill="#fb0a78"/>
<circle cx="104.33" cy="271.93" r="2.3" fill="#fb0a78"/>
<circle cx="109.67" cy="281.90" r="2.3" fill="#fb0a78"/>
<circle cx="115.00" cy="286.52" r="2.3" fill="#fb0a78"/>
<circle cx="120.33" cy="288.63" r="2.3" fill="#fb0a78"/>
<circle cx="125.67" cy="289.49" r="2.3" fill="#fb0a78"/>
<circle cx="131.00" cy="289.49" r="2.3" fill="#fb0a78"/>
<circle cx="136.33" cy="296.48" r="2.3" fill="#fb0a78"/>
<circle cx="141.67" cy="300.77" r="2.3" fill="#fb0a78"/>
<circle cx="147.00" cy="302.29" r="2.3" fill="#fb0a78"/>
<circle cx="152.33" cy="302.62" r="2.3" fill="#fb0a78"/>
<circle cx="157.67" cy="304.07" r="2.3" fill="#fb0a78"/>
<circle cx="163.00" cy="309.29" r="2.3" fill="#fb0a78"/>
<circle cx="168.33" cy="311.73" r="2.3" fill="#fb0a78"/>
<circle cx="173.67" cy="312.92" r="2.3" fill="#fb0a78"/>
<circle cx="179.00" cy="313.18" r="2.3" fill="#fb0a78"/>
<circle cx="184.33" cy="313.18" r="2.3" fill="#fb0a78"/>
<circle cx="189.67" cy="297.08" r="2.3" fill="#fb0a78"/>
<circle cx="195.00" cy="299.52" r="2.3" fill="#fb0a78"/>
<circle cx="200.33" cy="300.77" r="2.3" fill="#fb0a78"/>
<circle cx="205.67" cy="302.29" r="2.3" fill="#fb0a78"/>
<circle cx="211.00" cy="303.21" r="2.3" fill="#fb0a78"/>
<path d="M56.33,206.59 L61.67,216.29 L67.00,217.68 L72.33,218.67 L77.67,219.99 L83.00,222.83 L88.33,225.40 L93.67,226.98 L99.00,228.90 L104.33,230.48 L109.67,238.01 L115.00,239.59 L120.33,240.98 L125.67,242.10 L131.00,244.08 L136.33,253.78 L141.67,255.50 L147.00,257.01 L152.33,257.61 L157.67,259.13 L163.00,274.31 L168.33,278.00 L173.67,278.33 L179.00,278.33 L184.33,278.33 L189.67,261.17 L195.00,262.23 L200.33,263.68 L205.67,264.60 L211.00,265.79" fill="none" stroke="#000" stroke-width="1.8"/>
<circle cx="56.33" cy="206.59" r="2.3" fill="#000"/>
<circle cx="61.67" cy="216.29" r="2.3" fill="#000"/>
<circle cx="67.00" cy="217.68" r="2.3" fill="#000"/>
<circle cx="72.33" cy="218.67" r="2.3" fill="#000"/>
<circle cx="77.67" cy="219.99" r="2.3" fill="#000"/>
<circle cx="83.00" cy="222.83" r="2.3" fill="#000"/>
<circle cx="88.33" cy="225.40" r="2.3" fill="#000"/>
<circle cx="93.67" cy="226.98" r="2.3" fill="#000"/>
<circle cx="99.00" cy="228.90" r="2.3" fill="#000"/>
<circle cx="104.33" cy="230.48" r="2.3" fill="#000"/>
<circle cx="109.67" cy="238.01" r="2.3" fill="#000"/>
<circle cx="115.00" cy="239.59" r="2.3" fill="#000"/>
<circle cx="120.33" cy="240.98" r="2.3" fill="#000"/>
<circle cx="125.67" cy="242.10" r="2.3" fill="#000"/>
<circle cx="131.00" cy="244.08" r="2.3" fill="#000"/>
<circle cx="136.33" cy="253.78" r="2.3" fill="#000"/>
<circle cx="141.67" cy="255.50" r="2.3" fill="#000"/>
<circle cx="147.00" cy="257.01" r="2.3" fill="#000"/>
<circle cx="152.33" cy="257.61" r="2.3" fill="#000"/>
<circle cx="157.67" cy="259.13" r="2.3" fill="#000"/>
<circle cx="163.00" cy="274.31" r="2.3" fill="#000"/>
<circle cx="168.33" cy="278.00" r="2.3" fill="#000"/>
<circle cx="173.67" cy="278.33" r="2.3" fill="#000"/>
<circle cx="179.00" cy="278.33" r="2.3" fill="#000"/>
<circle cx="184.33" cy="278.33" r="2.3" fill="#000"/>
<circle cx="189.67" cy="261.17" r="2.3" fill="#000"/>
<circle cx="195.00" cy="262.23" r="2.3" fill="#000"/>
<circle cx="200.33" cy="263.68" r="2.3" fill="#000"/>
<circle cx="205.67" cy="264.60" r="2.3" fill="#000"/>
<circle cx="211.00" cy="265.79" r="2.3" fill="#000"/>
<text x="60.80" y="323.60" font-size="7.5" text-anchor="middle" font-weight="bold" fill="#000" color="#000" stroke-width="0.15" >0.1</text>
<text x="90.00" y="323.60" font-size="7.5" text-anchor="middle" font-weight="bold" fill="#000" color="#000" stroke-width="0.15" >0.2</text>
<text x="117.90" y="323.60" font-size="7.5" text-anchor="middle" font-weight="bold" fill="#000" color="#000" stroke-width="0.15" >0.5</text>
<text x="144.50" y="323.60" font-size="7.5" text-anchor="middle" font-weight="bold" fill="#000" color="#000" stroke-width="0.15" >1</text>
<text x="170.00" y="323.60" font-size="7.5" text-anchor="middle" font-weight="bold" fill="#000" color="#000" stroke-width="0.15" >2</text>
<text x="186.50" y="323.60" font-size="7.5" text-anchor="start" font-weight="bold" fill="#000" stroke-width="0.15" letter-spacing="0.3">1A g<tspan dy="-2.2" font-size="6.4">&#8722;1</tspan><tspan dy="2.2"></tspan></text>
<line x1="142.00" y1="210.20" x2="164.30" y2="210.20" stroke="#fb0a78" stroke-width="1.5"/>
<circle cx="153.3" cy="210.2" r="2" fill="#fb0a78"/>
<line x1="142.00" y1="222.30" x2="164.30" y2="222.30" stroke="#000" stroke-width="1.5"/>
<circle cx="153.3" cy="222.3" r="2" fill="#000"/>
<text x="166.50" y="213.90" font-size="9.5" text-anchor="start" font-weight="normal" fill="#000" color="#000" stroke-width="0.15" >Si/C</text>
<text x="166.50" y="225.60" font-size="9.5" text-anchor="start" font-weight="normal" fill="#000" color="#000" stroke-width="0.15" >Si/G/C</text>
<rect x="50.8" y="199" width="160.2" height="132.7" fill="none" stroke="#000" stroke-width="2"/>
<line x1="49.00" y1="322.75" x2="50.80" y2="322.75" stroke="#000" stroke-width="1"/>
<line x1="49.00" y1="306.25" x2="50.80" y2="306.25" stroke="#000" stroke-width="1"/>
<line x1="49.00" y1="289.75" x2="50.80" y2="289.75" stroke="#000" stroke-width="1"/>
<line x1="49.00" y1="273.25" x2="50.80" y2="273.25" stroke="#000" stroke-width="1"/>
<line x1="49.00" y1="256.75" x2="50.80" y2="256.75" stroke="#000" stroke-width="1"/>
<line x1="49.00" y1="240.25" x2="50.80" y2="240.25" stroke="#000" stroke-width="1"/>
<line x1="49.00" y1="223.75" x2="50.80" y2="223.75" stroke="#000" stroke-width="1"/>
<line x1="49.00" y1="207.25" x2="50.80" y2="207.25" stroke="#000" stroke-width="1"/>
<line x1="64.33" y1="331.70" x2="64.33" y2="333.50" stroke="#000" stroke-width="1"/>
<line x1="91.00" y1="331.70" x2="91.00" y2="333.50" stroke="#000" stroke-width="1"/>
<line x1="117.67" y1="331.70" x2="117.67" y2="333.50" stroke="#000" stroke-width="1"/>
<line x1="144.33" y1="331.70" x2="144.33" y2="333.50" stroke="#000" stroke-width="1"/>
<line x1="171.00" y1="331.70" x2="171.00" y2="333.50" stroke="#000" stroke-width="1"/>
<line x1="197.67" y1="331.70" x2="197.67" y2="333.50" stroke="#000" stroke-width="1"/>
<line x1="208.50" y1="219.50" x2="211.00" y2="219.50" stroke="#000" stroke-width="1.5"/>
<line x1="208.50" y1="239.30" x2="211.00" y2="239.30" stroke="#000" stroke-width="1.5"/>
<line x1="208.50" y1="259.10" x2="211.00" y2="259.10" stroke="#000" stroke-width="1.5"/>
<line x1="208.50" y1="278.90" x2="211.00" y2="278.90" stroke="#000" stroke-width="1.5"/>
<line x1="208.50" y1="298.70" x2="211.00" y2="298.70" stroke="#000" stroke-width="1.5"/>
<line x1="208.50" y1="318.50" x2="211.00" y2="318.50" stroke="#000" stroke-width="1.5"/>
<line x1="209.50" y1="209.60" x2="211.00" y2="209.60" stroke="#000" stroke-width="1"/>
<line x1="209.50" y1="229.40" x2="211.00" y2="229.40" stroke="#000" stroke-width="1"/>
<line x1="209.50" y1="249.20" x2="211.00" y2="249.20" stroke="#000" stroke-width="1"/>
<line x1="209.50" y1="269.00" x2="211.00" y2="269.00" stroke="#000" stroke-width="1"/>
<line x1="209.50" y1="288.80" x2="211.00" y2="288.80" stroke="#000" stroke-width="1"/>
<line x1="209.50" y1="308.60" x2="211.00" y2="308.60" stroke="#000" stroke-width="1"/>
<line x1="209.50" y1="328.40" x2="211.00" y2="328.40" stroke="#000" stroke-width="1"/>
<line x1="47.80" y1="331.00" x2="50.80" y2="331.00" stroke="#000" stroke-width="1.5"/>
<text x="46.40" y="334.20" font-size="9.4" text-anchor="end" font-weight="normal" fill="#000" color="#000" stroke-width="0.15" >0</text>
<line x1="47.80" y1="314.50" x2="50.80" y2="314.50" stroke="#000" stroke-width="1.5"/>
<text x="46.40" y="317.70" font-size="9.4" text-anchor="end" font-weight="normal" fill="#000" color="#000" stroke-width="0.15" >250</text>
<line x1="47.80" y1="298.00" x2="50.80" y2="298.00" stroke="#000" stroke-width="1.5"/>
<text x="46.40" y="301.20" font-size="9.4" text-anchor="end" font-weight="normal" fill="#000" color="#000" stroke-width="0.15" >500</text>
<line x1="47.80" y1="281.50" x2="50.80" y2="281.50" stroke="#000" stroke-width="1.5"/>
<text x="46.40" y="284.70" font-size="9.4" text-anchor="end" font-weight="normal" fill="#000" color="#000" stroke-width="0.15" >750</text>
<line x1="47.80" y1="265.00" x2="50.80" y2="265.00" stroke="#000" stroke-width="1.5"/>
<text x="46.40" y="268.20" font-size="9.4" text-anchor="end" font-weight="normal" fill="#000" color="#000" stroke-width="0.15" >1000</text>
<line x1="47.80" y1="248.50" x2="50.80" y2="248.50" stroke="#000" stroke-width="1.5"/>
<text x="46.40" y="251.70" font-size="9.4" text-anchor="end" font-weight="normal" fill="#000" color="#000" stroke-width="0.15" >1250</text>
<line x1="47.80" y1="232.00" x2="50.80" y2="232.00" stroke="#000" stroke-width="1.5"/>
<text x="46.40" y="235.20" font-size="9.4" text-anchor="end" font-weight="normal" fill="#000" color="#000" stroke-width="0.15" >1500</text>
<line x1="47.80" y1="215.50" x2="50.80" y2="215.50" stroke="#000" stroke-width="1.5"/>
<text x="46.40" y="218.70" font-size="9.4" text-anchor="end" font-weight="normal" fill="#000" color="#000" stroke-width="0.15" >1750</text>
<line x1="47.80" y1="199.00" x2="50.80" y2="199.00" stroke="#000" stroke-width="1.5"/>
<text x="46.40" y="202.20" font-size="9.4" text-anchor="end" font-weight="normal" fill="#000" color="#000" stroke-width="0.15" >2000</text>
<line x1="51.00" y1="331.70" x2="51.00" y2="334.70" stroke="#000" stroke-width="1.5"/>
<text x="51.00" y="342.30" font-size="9.6" text-anchor="middle" font-weight="normal" fill="#000" color="#000" stroke-width="0.15" >0</text>
<line x1="77.67" y1="331.70" x2="77.67" y2="334.70" stroke="#000" stroke-width="1.5"/>
<text x="77.67" y="342.30" font-size="9.6" text-anchor="middle" font-weight="normal" fill="#000" color="#000" stroke-width="0.15" >5</text>
<line x1="104.33" y1="331.70" x2="104.33" y2="334.70" stroke="#000" stroke-width="1.5"/>
<text x="104.33" y="342.30" font-size="9.6" text-anchor="middle" font-weight="normal" fill="#000" color="#000" stroke-width="0.15" >10</text>
<line x1="131.00" y1="331.70" x2="131.00" y2="334.70" stroke="#000" stroke-width="1.5"/>
<text x="131.00" y="342.30" font-size="9.6" text-anchor="middle" font-weight="normal" fill="#000" color="#000" stroke-width="0.15" >15</text>
<line x1="157.67" y1="331.70" x2="157.67" y2="334.70" stroke="#000" stroke-width="1.5"/>
<text x="157.67" y="342.30" font-size="9.6" text-anchor="middle" font-weight="normal" fill="#000" color="#000" stroke-width="0.15" >20</text>
<line x1="184.33" y1="331.70" x2="184.33" y2="334.70" stroke="#000" stroke-width="1.5"/>
<text x="184.33" y="342.30" font-size="9.6" text-anchor="middle" font-weight="normal" fill="#000" color="#000" stroke-width="0.15" >25</text>
<line x1="211.00" y1="331.70" x2="211.00" y2="334.70" stroke="#000" stroke-width="1.5"/>
<text x="211.00" y="342.30" font-size="9.6" text-anchor="middle" font-weight="normal" fill="#000" color="#000" stroke-width="0.15" >30</text>
<text x="94.10" y="358.80" font-size="10.7" text-anchor="start" font-weight="normal" fill="#000" color="#000" stroke-width="0.15" >Cycle number (n)</text>
<text transform="translate(18.50,326.40) rotate(-90)" x="0" y="0" font-size="10.9" text-anchor="start" font-weight="normal" fill="#000" stroke-width="0.15" letter-spacing="0">Specific Capacity (mAh g<tspan dy="-3.9" font-size="6.8">&#8722;1</tspan><tspan dy="3.9">)</tspan></text>
<text x="7.70" y="186.20" font-size="18.7" text-anchor="start" font-weight="normal" fill="#000" color="#000" stroke-width="0" >(c)</text>
<rect x="269.50" y="278.70" width="162.50" height="53.70" fill="#fcf986"/>
<line x1="269.5" y1="278.70" x2="432" y2="278.70" stroke="#707070" stroke-width="0.9" stroke-dasharray="2.5 1 1 1"/>
<path d="M269.50,285.45 L274.92,287.60 L280.33,289.21 L285.75,286.85 L291.17,288.24 L296.58,288.78 L302.00,291.24 L307.42,289.85 L312.83,289.85 L318.25,291.78 L323.67,290.60 L329.08,291.24 L334.50,292.85 L339.92,291.56 L345.33,291.67 L350.75,293.17 L356.17,295.32 L361.58,293.92 L367.00,293.92 L372.42,295.85 L377.83,295.85 L383.25,295.74 L388.67,298.32 L394.08,296.92 L399.50,295.74 L404.92,295.85 L410.33,296.71 L415.75,300.03 L421.17,299.71 L426.58,298.75 L432.00,298.75" fill="none" stroke="#fb0a78" stroke-width="1.8"/>
<circle cx="269.50" cy="285.45" r="2.3" fill="#fb0a78"/>
<circle cx="274.92" cy="287.60" r="2.3" fill="#fb0a78"/>
<circle cx="280.33" cy="289.21" r="2.3" fill="#fb0a78"/>
<circle cx="285.75" cy="286.85" r="2.3" fill="#fb0a78"/>
<circle cx="291.17" cy="288.24" r="2.3" fill="#fb0a78"/>
<circle cx="296.58" cy="288.78" r="2.3" fill="#fb0a78"/>
<circle cx="302.00" cy="291.24" r="2.3" fill="#fb0a78"/>
<circle cx="307.42" cy="289.85" r="2.3" fill="#fb0a78"/>
<circle cx="312.83" cy="289.85" r="2.3" fill="#fb0a78"/>
<circle cx="318.25" cy="291.78" r="2.3" fill="#fb0a78"/>
<circle cx="323.67" cy="290.60" r="2.3" fill="#fb0a78"/>
<circle cx="329.08" cy="291.24" r="2.3" fill="#fb0a78"/>
<circle cx="334.50" cy="292.85" r="2.3" fill="#fb0a78"/>
<circle cx="339.92" cy="291.56" r="2.3" fill="#fb0a78"/>
<circle cx="345.33" cy="291.67" r="2.3" fill="#fb0a78"/>
<circle cx="350.75" cy="293.17" r="2.3" fill="#fb0a78"/>
<circle cx="356.17" cy="295.32" r="2.3" fill="#fb0a78"/>
<circle cx="361.58" cy="293.92" r="2.3" fill="#fb0a78"/>
<circle cx="367.00" cy="293.92" r="2.3" fill="#fb0a78"/>
<circle cx="372.42" cy="295.85" r="2.3" fill="#fb0a78"/>
<circle cx="377.83" cy="295.85" r="2.3" fill="#fb0a78"/>
<circle cx="383.25" cy="295.74" r="2.3" fill="#fb0a78"/>
<circle cx="388.67" cy="298.32" r="2.3" fill="#fb0a78"/>
<circle cx="394.08" cy="296.92" r="2.3" fill="#fb0a78"/>
<circle cx="399.50" cy="295.74" r="2.3" fill="#fb0a78"/>
<circle cx="404.92" cy="295.85" r="2.3" fill="#fb0a78"/>
<circle cx="410.33" cy="296.71" r="2.3" fill="#fb0a78"/>
<circle cx="415.75" cy="300.03" r="2.3" fill="#fb0a78"/>
<circle cx="421.17" cy="299.71" r="2.3" fill="#fb0a78"/>
<circle cx="426.58" cy="298.75" r="2.3" fill="#fb0a78"/>
<circle cx="432.00" cy="298.75" r="2.3" fill="#fb0a78"/>
<path d="M269.50,226.17 L274.92,227.78 L280.33,230.78 L285.75,232.60 L291.17,233.25 L296.58,234.10 L302.00,234.86 L307.42,235.28 L312.83,235.71 L318.25,236.25 L323.67,236.89 L329.08,238.29 L334.50,239.68 L339.92,240.75 L345.33,241.72 L350.75,243.97 L356.17,245.25 L361.58,246.75 L367.00,248.68 L372.42,250.29 L377.83,252.33 L383.25,253.94 L388.67,255.44 L394.08,257.05 L399.50,258.76 L404.92,260.37 L410.33,261.98 L415.75,263.48 L421.17,264.87 L426.58,266.48 L432.00,267.55" fill="none" stroke="#000" stroke-width="1.8"/>
<circle cx="269.50" cy="226.17" r="2.3" fill="#000"/>
<circle cx="274.92" cy="227.78" r="2.3" fill="#000"/>
<circle cx="280.33" cy="230.78" r="2.3" fill="#000"/>
<circle cx="285.75" cy="232.60" r="2.3" fill="#000"/>
<circle cx="291.17" cy="233.25" r="2.3" fill="#000"/>
<circle cx="296.58" cy="234.10" r="2.3" fill="#000"/>
<circle cx="302.00" cy="234.86" r="2.3" fill="#000"/>
<circle cx="307.42" cy="235.28" r="2.3" fill="#000"/>
<circle cx="312.83" cy="235.71" r="2.3" fill="#000"/>
<circle cx="318.25" cy="236.25" r="2.3" fill="#000"/>
<circle cx="323.67" cy="236.89" r="2.3" fill="#000"/>
<circle cx="329.08" cy="238.29" r="2.3" fill="#000"/>
<circle cx="334.50" cy="239.68" r="2.3" fill="#000"/>
<circle cx="339.92" cy="240.75" r="2.3" fill="#000"/>
<circle cx="345.33" cy="241.72" r="2.3" fill="#000"/>
<circle cx="350.75" cy="243.97" r="2.3" fill="#000"/>
<circle cx="356.17" cy="245.25" r="2.3" fill="#000"/>
<circle cx="361.58" cy="246.75" r="2.3" fill="#000"/>
<circle cx="367.00" cy="248.68" r="2.3" fill="#000"/>
<circle cx="372.42" cy="250.29" r="2.3" fill="#000"/>
<circle cx="377.83" cy="252.33" r="2.3" fill="#000"/>
<circle cx="383.25" cy="253.94" r="2.3" fill="#000"/>
<circle cx="388.67" cy="255.44" r="2.3" fill="#000"/>
<circle cx="394.08" cy="257.05" r="2.3" fill="#000"/>
<circle cx="399.50" cy="258.76" r="2.3" fill="#000"/>
<circle cx="404.92" cy="260.37" r="2.3" fill="#000"/>
<circle cx="410.33" cy="261.98" r="2.3" fill="#000"/>
<circle cx="415.75" cy="263.48" r="2.3" fill="#000"/>
<circle cx="421.17" cy="264.87" r="2.3" fill="#000"/>
<circle cx="426.58" cy="266.48" r="2.3" fill="#000"/>
<circle cx="432.00" cy="267.55" r="2.3" fill="#000"/>
<text x="332.20" y="276.00" font-size="8.1" text-anchor="start" font-weight="bold" fill="#000" stroke-width="0.15" letter-spacing="0.2">1A g<tspan dy="-2.4" font-size="6.5">&#8722;1</tspan><tspan dy="2.4"></tspan></text>
<line x1="356.00" y1="211.40" x2="378.40" y2="211.40" stroke="#fb0a78" stroke-width="1.5"/>
<circle cx="367.4" cy="211.4" r="2" fill="#fb0a78"/>
<line x1="356.00" y1="223.30" x2="378.40" y2="223.30" stroke="#000" stroke-width="1.5"/>
<circle cx="367.4" cy="223.3" r="2" fill="#000"/>
<text x="380.80" y="215.00" font-size="9.5" text-anchor="start" font-weight="normal" fill="#000" color="#000" stroke-width="0.15" >Si/C</text>
<text x="380.80" y="226.80" font-size="9.5" text-anchor="start" font-weight="normal" fill="#000" color="#000" stroke-width="0.15" >Si/G/C</text>
<rect x="269.5" y="198.3" width="162.5" height="134.09999999999997" fill="none" stroke="#000" stroke-width="2"/>
<line x1="267.70" y1="318.90" x2="269.50" y2="318.90" stroke="#000" stroke-width="1"/>
<line x1="267.70" y1="292.10" x2="269.50" y2="292.10" stroke="#000" stroke-width="1"/>
<line x1="267.70" y1="265.30" x2="269.50" y2="265.30" stroke="#000" stroke-width="1"/>
<line x1="267.70" y1="238.50" x2="269.50" y2="238.50" stroke="#000" stroke-width="1"/>
<line x1="267.70" y1="211.70" x2="269.50" y2="211.70" stroke="#000" stroke-width="1"/>
<line x1="296.58" y1="332.40" x2="296.58" y2="334.20" stroke="#000" stroke-width="1"/>
<line x1="350.75" y1="332.40" x2="350.75" y2="334.20" stroke="#000" stroke-width="1"/>
<line x1="404.92" y1="332.40" x2="404.92" y2="334.20" stroke="#000" stroke-width="1"/>
<line x1="429.50" y1="219.10" x2="432.00" y2="219.10" stroke="#000" stroke-width="1.5"/>
<line x1="429.50" y1="238.90" x2="432.00" y2="238.90" stroke="#000" stroke-width="1.5"/>
<line x1="429.50" y1="258.70" x2="432.00" y2="258.70" stroke="#000" stroke-width="1.5"/>
<line x1="429.50" y1="278.50" x2="432.00" y2="278.50" stroke="#000" stroke-width="1.5"/>
<line x1="429.50" y1="298.30" x2="432.00" y2="298.30" stroke="#000" stroke-width="1.5"/>
<line x1="429.50" y1="318.10" x2="432.00" y2="318.10" stroke="#000" stroke-width="1.5"/>
<line x1="430.50" y1="209.20" x2="432.00" y2="209.20" stroke="#000" stroke-width="1"/>
<line x1="430.50" y1="229.00" x2="432.00" y2="229.00" stroke="#000" stroke-width="1"/>
<line x1="430.50" y1="248.80" x2="432.00" y2="248.80" stroke="#000" stroke-width="1"/>
<line x1="430.50" y1="268.60" x2="432.00" y2="268.60" stroke="#000" stroke-width="1"/>
<line x1="430.50" y1="288.40" x2="432.00" y2="288.40" stroke="#000" stroke-width="1"/>
<line x1="430.50" y1="308.20" x2="432.00" y2="308.20" stroke="#000" stroke-width="1"/>
<line x1="430.50" y1="328.00" x2="432.00" y2="328.00" stroke="#000" stroke-width="1"/>
<line x1="266.50" y1="332.30" x2="269.50" y2="332.30" stroke="#000" stroke-width="1.5"/>
<text x="265.60" y="335.50" font-size="9.4" text-anchor="end" font-weight="normal" fill="#000" color="#000" stroke-width="0.15" >0</text>
<line x1="266.50" y1="305.50" x2="269.50" y2="305.50" stroke="#000" stroke-width="1.5"/>
<text x="265.60" y="308.70" font-size="9.4" text-anchor="end" font-weight="normal" fill="#000" color="#000" stroke-width="0.15" >250</text>
<line x1="266.50" y1="278.70" x2="269.50" y2="278.70" stroke="#000" stroke-width="1.5"/>
<text x="265.60" y="281.90" font-size="9.4" text-anchor="end" font-weight="normal" fill="#000" color="#000" stroke-width="0.15" >500</text>
<line x1="266.50" y1="251.90" x2="269.50" y2="251.90" stroke="#000" stroke-width="1.5"/>
<text x="265.60" y="255.10" font-size="9.4" text-anchor="end" font-weight="normal" fill="#000" color="#000" stroke-width="0.15" >750</text>
<line x1="266.50" y1="225.10" x2="269.50" y2="225.10" stroke="#000" stroke-width="1.5"/>
<text x="265.60" y="228.30" font-size="9.4" text-anchor="end" font-weight="normal" fill="#000" color="#000" stroke-width="0.15" >1000</text>
<line x1="266.50" y1="198.30" x2="269.50" y2="198.30" stroke="#000" stroke-width="1.5"/>
<text x="265.60" y="201.50" font-size="9.4" text-anchor="end" font-weight="normal" fill="#000" color="#000" stroke-width="0.15" >1250</text>
<line x1="269.50" y1="332.40" x2="269.50" y2="335.40" stroke="#000" stroke-width="1.5"/>
<text x="269.50" y="343.70" font-size="9.6" text-anchor="middle" font-weight="normal" fill="#000" color="#000" stroke-width="0.15" >30</text>
<line x1="323.67" y1="332.40" x2="323.67" y2="335.40" stroke="#000" stroke-width="1.5"/>
<text x="323.67" y="343.70" font-size="9.6" text-anchor="middle" font-weight="normal" fill="#000" color="#000" stroke-width="0.15" >40</text>
<line x1="377.83" y1="332.40" x2="377.83" y2="335.40" stroke="#000" stroke-width="1.5"/>
<text x="377.83" y="343.70" font-size="9.6" text-anchor="middle" font-weight="normal" fill="#000" color="#000" stroke-width="0.15" >50</text>
<line x1="432.00" y1="332.40" x2="432.00" y2="335.40" stroke="#000" stroke-width="1.5"/>
<text x="432.00" y="343.70" font-size="9.6" text-anchor="middle" font-weight="normal" fill="#000" color="#000" stroke-width="0.15" >60</text>
<text x="313.00" y="361.10" font-size="10.7" text-anchor="start" font-weight="normal" fill="#000" color="#000" stroke-width="0.15" >Cycle number (n)</text>
<text transform="translate(237.20,327.60) rotate(-90)" x="0" y="0" font-size="10.9" text-anchor="start" font-weight="normal" fill="#000" stroke-width="0.15" letter-spacing="0">Specific Capacity (mAh g<tspan dy="-3.9" font-size="6.8">&#8722;1</tspan><tspan dy="3.9">)</tspan></text>
<text x="228.50" y="185.30" font-size="18.7" text-anchor="start" font-weight="normal" fill="#000" color="#000" stroke-width="0" >(d)</text>
<circle cx="53.48" cy="486.80" r="2.1" fill="#fb0a78"/>
<circle cx="56.17" cy="428.40" r="2.1" fill="#fb0a78"/>
<circle cx="58.85" cy="428.40" r="2.1" fill="#fb0a78"/>
<circle cx="61.53" cy="430.00" r="2.1" fill="#fb0a78"/>
<circle cx="64.22" cy="431.60" r="2.1" fill="#fb0a78"/>
<circle cx="66.90" cy="433.20" r="2.1" fill="#fb0a78"/>
<circle cx="69.58" cy="427.60" r="2.1" fill="#fb0a78"/>
<circle cx="72.27" cy="428.40" r="2.1" fill="#fb0a78"/>
<circle cx="74.95" cy="427.60" r="2.1" fill="#fb0a78"/>
<circle cx="77.63" cy="430.40" r="2.1" fill="#fb0a78"/>
<circle cx="80.32" cy="437.20" r="2.1" fill="#fb0a78"/>
<circle cx="83.00" cy="426.00" r="2.1" fill="#fb0a78"/>
<circle cx="85.68" cy="426.00" r="2.1" fill="#fb0a78"/>
<circle cx="88.37" cy="426.80" r="2.1" fill="#fb0a78"/>
<circle cx="91.05" cy="427.60" r="2.1" fill="#fb0a78"/>
<circle cx="93.73" cy="446.80" r="2.1" fill="#fb0a78"/>
<circle cx="96.42" cy="423.60" r="2.1" fill="#fb0a78"/>
<circle cx="99.10" cy="424.40" r="2.1" fill="#fb0a78"/>
<circle cx="101.78" cy="425.20" r="2.1" fill="#fb0a78"/>
<circle cx="104.47" cy="423.60" r="2.1" fill="#fb0a78"/>
<circle cx="107.15" cy="454.80" r="2.1" fill="#fb0a78"/>
<circle cx="109.83" cy="419.60" r="2.1" fill="#fb0a78"/>
<circle cx="112.52" cy="402.00" r="2.1" fill="#fb0a78"/>
<circle cx="115.20" cy="419.60" r="2.1" fill="#fb0a78"/>
<circle cx="117.88" cy="396.00" r="2.1" fill="#fb0a78"/>
<circle cx="120.57" cy="409.20" r="2.1" fill="#fb0a78"/>
<circle cx="123.25" cy="425.20" r="2.1" fill="#fb0a78"/>
<circle cx="125.93" cy="430.40" r="2.1" fill="#fb0a78"/>
<circle cx="128.62" cy="425.20" r="2.1" fill="#fb0a78"/>
<circle cx="131.30" cy="424.40" r="2.1" fill="#fb0a78"/>
<circle cx="133.98" cy="426.80" r="2.1" fill="#fb0a78"/>
<circle cx="136.67" cy="428.40" r="2.1" fill="#fb0a78"/>
<circle cx="139.35" cy="424.40" r="2.1" fill="#fb0a78"/>
<circle cx="142.03" cy="426.80" r="2.1" fill="#fb0a78"/>
<circle cx="144.72" cy="424.40" r="2.1" fill="#fb0a78"/>
<circle cx="147.40" cy="428.40" r="2.1" fill="#fb0a78"/>
<circle cx="150.08" cy="429.20" r="2.1" fill="#fb0a78"/>
<circle cx="152.77" cy="432.40" r="2.1" fill="#fb0a78"/>
<circle cx="155.45" cy="429.20" r="2.1" fill="#fb0a78"/>
<circle cx="158.13" cy="432.40" r="2.1" fill="#fb0a78"/>
<circle cx="160.82" cy="430.80" r="2.1" fill="#fb0a78"/>
<circle cx="163.50" cy="431.60" r="2.1" fill="#fb0a78"/>
<circle cx="166.18" cy="436.40" r="2.1" fill="#fb0a78"/>
<circle cx="168.87" cy="430.00" r="2.1" fill="#fb0a78"/>
<circle cx="171.55" cy="435.60" r="2.1" fill="#fb0a78"/>
<circle cx="174.23" cy="432.40" r="2.1" fill="#fb0a78"/>
<circle cx="176.92" cy="432.00" r="2.1" fill="#fb0a78"/>
<circle cx="179.60" cy="434.00" r="2.1" fill="#fb0a78"/>
<circle cx="182.28" cy="435.60" r="2.1" fill="#fb0a78"/>
<circle cx="184.97" cy="432.40" r="2.1" fill="#fb0a78"/>
<circle cx="187.65" cy="432.40" r="2.1" fill="#fb0a78"/>
<circle cx="190.33" cy="429.20" r="2.1" fill="#fb0a78"/>
<circle cx="193.02" cy="432.40" r="2.1" fill="#fb0a78"/>
<circle cx="195.70" cy="428.40" r="2.1" fill="#fb0a78"/>
<circle cx="198.38" cy="432.40" r="2.1" fill="#fb0a78"/>
<circle cx="201.07" cy="424.00" r="2.1" fill="#fb0a78"/>
<circle cx="203.75" cy="432.40" r="2.1" fill="#fb0a78"/>
<circle cx="206.43" cy="429.20" r="2.1" fill="#fb0a78"/>
<circle cx="209.12" cy="427.60" r="2.1" fill="#fb0a78"/>
<circle cx="211.80" cy="425.20" r="2.1" fill="#fb0a78"/>
<circle cx="53.48" cy="502.40" r="2.1" fill="#000"/>
<circle cx="56.17" cy="434.80" r="2.1" fill="#000"/>
<circle cx="58.85" cy="442.80" r="2.1" fill="#000"/>
<circle cx="61.53" cy="447.60" r="2.1" fill="#000"/>
<circle cx="64.22" cy="455.60" r="2.1" fill="#000"/>
<circle cx="66.90" cy="451.60" r="2.1" fill="#000"/>
<circle cx="69.58" cy="447.60" r="2.1" fill="#000"/>
<circle cx="72.27" cy="453.20" r="2.1" fill="#000"/>
<circle cx="74.95" cy="452.40" r="2.1" fill="#000"/>
<circle cx="77.63" cy="458.80" r="2.1" fill="#000"/>
<circle cx="80.32" cy="464.40" r="2.1" fill="#000"/>
<circle cx="83.00" cy="435.60" r="2.1" fill="#000"/>
<circle cx="85.68" cy="431.60" r="2.1" fill="#000"/>
<circle cx="88.37" cy="433.20" r="2.1" fill="#000"/>
<circle cx="91.05" cy="436.00" r="2.1" fill="#000"/>
<circle cx="93.73" cy="469.20" r="2.1" fill="#000"/>
<circle cx="96.42" cy="426.80" r="2.1" fill="#000"/>
<circle cx="99.10" cy="420.00" r="2.1" fill="#000"/>
<circle cx="101.78" cy="422.80" r="2.1" fill="#000"/>
<circle cx="104.47" cy="422.00" r="2.1" fill="#000"/>
<circle cx="107.15" cy="471.60" r="2.1" fill="#000"/>
<circle cx="109.83" cy="418.80" r="2.1" fill="#000"/>
<circle cx="112.52" cy="409.20" r="2.1" fill="#000"/>
<circle cx="115.20" cy="417.20" r="2.1" fill="#000"/>
<circle cx="117.88" cy="410.80" r="2.1" fill="#000"/>
<circle cx="120.57" cy="412.40" r="2.1" fill="#000"/>
<circle cx="123.25" cy="426.80" r="2.1" fill="#000"/>
<circle cx="125.93" cy="428.40" r="2.1" fill="#000"/>
<circle cx="128.62" cy="426.00" r="2.1" fill="#000"/>
<circle cx="131.30" cy="423.60" r="2.1" fill="#000"/>
<circle cx="133.98" cy="427.60" r="2.1" fill="#000"/>
<circle cx="136.67" cy="418.40" r="2.1" fill="#000"/>
<circle cx="139.35" cy="433.20" r="2.1" fill="#000"/>
<circle cx="142.03" cy="422.00" r="2.1" fill="#000"/>
<circle cx="144.72" cy="430.00" r="2.1" fill="#000"/>
<circle cx="147.40" cy="418.80" r="2.1" fill="#000"/>
<circle cx="150.08" cy="421.20" r="2.1" fill="#000"/>
<circle cx="152.77" cy="428.40" r="2.1" fill="#000"/>
<circle cx="155.45" cy="425.20" r="2.1" fill="#000"/>
<circle cx="158.13" cy="430.40" r="2.1" fill="#000"/>
<circle cx="160.82" cy="422.80" r="2.1" fill="#000"/>
<circle cx="163.50" cy="422.80" r="2.1" fill="#000"/>
<circle cx="166.18" cy="430.40" r="2.1" fill="#000"/>
<circle cx="168.87" cy="426.80" r="2.1" fill="#000"/>
<circle cx="171.55" cy="433.20" r="2.1" fill="#000"/>
<circle cx="174.23" cy="411.60" r="2.1" fill="#000"/>
<circle cx="176.92" cy="429.20" r="2.1" fill="#000"/>
<circle cx="179.60" cy="427.60" r="2.1" fill="#000"/>
<circle cx="182.28" cy="423.60" r="2.1" fill="#000"/>
<circle cx="184.97" cy="430.40" r="2.1" fill="#000"/>
<circle cx="187.65" cy="423.60" r="2.1" fill="#000"/>
<circle cx="190.33" cy="421.60" r="2.1" fill="#000"/>
<circle cx="193.02" cy="422.80" r="2.1" fill="#000"/>
<circle cx="195.70" cy="434.80" r="2.1" fill="#000"/>
<circle cx="198.38" cy="423.20" r="2.1" fill="#000"/>
<circle cx="201.07" cy="433.20" r="2.1" fill="#000"/>
<circle cx="203.75" cy="420.40" r="2.1" fill="#000"/>
<circle cx="206.43" cy="420.40" r="2.1" fill="#000"/>
<circle cx="209.12" cy="426.00" r="2.1" fill="#000"/>
<circle cx="211.80" cy="428.40" r="2.1" fill="#000"/>
<line x1="51.6" y1="416.2" x2="211.6" y2="416.2" stroke="#f01818" stroke-width="2" stroke-dasharray="8.5 5" stroke-dashoffset="-0.2"/>
<text x="70.70" y="389.20" font-size="11" text-anchor="start" font-weight="normal" fill="#f03030" color="#f03030" stroke-width="0.15" >99</text>
<line x1="77.4" y1="394.6" x2="56" y2="410.5" stroke="#f01818" stroke-width="1.6"/>
<path d="M52.4,413.5 L54.2,406.8 L58.6,412.4 Z" fill="#f01818"/>
<circle cx="159.9" cy="457.7" r="2" fill="#fb0a78"/>
<circle cx="159.9" cy="471.2" r="2" fill="#000"/>
<text x="175.80" y="462.30" font-size="11.1" text-anchor="start" font-weight="normal" fill="#000" color="#000" stroke-width="0.15" >Si/G/C</text>
<text x="175.80" y="475.50" font-size="11.1" text-anchor="start" font-weight="normal" fill="#000" color="#000" stroke-width="0.15" >Si/C</text>
<rect x="50.6" y="376" width="162.0" height="128.39999999999998" fill="none" stroke="#000" stroke-width="2"/>
<line x1="48.80" y1="496.40" x2="50.60" y2="496.40" stroke="#000" stroke-width="1"/>
<line x1="48.80" y1="480.40" x2="50.60" y2="480.40" stroke="#000" stroke-width="1"/>
<line x1="48.80" y1="464.40" x2="50.60" y2="464.40" stroke="#000" stroke-width="1"/>
<line x1="48.80" y1="448.40" x2="50.60" y2="448.40" stroke="#000" stroke-width="1"/>
<line x1="48.80" y1="432.40" x2="50.60" y2="432.40" stroke="#000" stroke-width="1"/>
<line x1="48.80" y1="416.40" x2="50.60" y2="416.40" stroke="#000" stroke-width="1"/>
<line x1="48.80" y1="400.40" x2="50.60" y2="400.40" stroke="#000" stroke-width="1"/>
<line x1="48.80" y1="384.40" x2="50.60" y2="384.40" stroke="#000" stroke-width="1"/>
<line x1="64.22" y1="504.40" x2="64.22" y2="506.20" stroke="#000" stroke-width="1"/>
<line x1="91.05" y1="504.40" x2="91.05" y2="506.20" stroke="#000" stroke-width="1"/>
<line x1="117.88" y1="504.40" x2="117.88" y2="506.20" stroke="#000" stroke-width="1"/>
<line x1="144.72" y1="504.40" x2="144.72" y2="506.20" stroke="#000" stroke-width="1"/>
<line x1="171.55" y1="504.40" x2="171.55" y2="506.20" stroke="#000" stroke-width="1"/>
<line x1="198.38" y1="504.40" x2="198.38" y2="506.20" stroke="#000" stroke-width="1"/>
<line x1="47.60" y1="504.40" x2="50.60" y2="504.40" stroke="#000" stroke-width="1.5"/>
<text x="46.40" y="508.20" font-size="11.2" text-anchor="end" font-weight="normal" fill="#000" color="#000" stroke-width="0.15" >88</text>
<line x1="47.60" y1="488.40" x2="50.60" y2="488.40" stroke="#000" stroke-width="1.5"/>
<text x="46.40" y="492.20" font-size="11.2" text-anchor="end" font-weight="normal" fill="#000" color="#000" stroke-width="0.15" >90</text>
<line x1="47.60" y1="472.40" x2="50.60" y2="472.40" stroke="#000" stroke-width="1.5"/>
<text x="46.40" y="476.20" font-size="11.2" text-anchor="end" font-weight="normal" fill="#000" color="#000" stroke-width="0.15" >92</text>
<line x1="47.60" y1="456.40" x2="50.60" y2="456.40" stroke="#000" stroke-width="1.5"/>
<text x="46.40" y="460.20" font-size="11.2" text-anchor="end" font-weight="normal" fill="#000" color="#000" stroke-width="0.15" >94</text>
<line x1="47.60" y1="440.40" x2="50.60" y2="440.40" stroke="#000" stroke-width="1.5"/>
<text x="46.40" y="444.20" font-size="11.2" text-anchor="end" font-weight="normal" fill="#000" color="#000" stroke-width="0.15" >96</text>
<line x1="47.60" y1="424.40" x2="50.60" y2="424.40" stroke="#000" stroke-width="1.5"/>
<text x="46.40" y="428.20" font-size="11.2" text-anchor="end" font-weight="normal" fill="#000" color="#000" stroke-width="0.15" >98</text>
<line x1="47.60" y1="408.40" x2="50.60" y2="408.40" stroke="#000" stroke-width="1.5"/>
<text x="46.40" y="412.20" font-size="11.2" text-anchor="end" font-weight="normal" fill="#000" color="#000" stroke-width="0.15" >100</text>
<line x1="47.60" y1="392.40" x2="50.60" y2="392.40" stroke="#000" stroke-width="1.5"/>
<text x="46.40" y="396.20" font-size="11.2" text-anchor="end" font-weight="normal" fill="#000" color="#000" stroke-width="0.15" >102</text>
<line x1="47.60" y1="376.40" x2="50.60" y2="376.40" stroke="#000" stroke-width="1.5"/>
<text x="46.40" y="380.20" font-size="11.2" text-anchor="end" font-weight="normal" fill="#000" color="#000" stroke-width="0.15" >104</text>
<line x1="50.80" y1="504.40" x2="50.80" y2="507.40" stroke="#000" stroke-width="1.5"/>
<text x="50.80" y="517.40" font-size="11.3" text-anchor="middle" font-weight="normal" fill="#000" color="#000" stroke-width="0.15" >0</text>
<line x1="77.63" y1="504.40" x2="77.63" y2="507.40" stroke="#000" stroke-width="1.5"/>
<text x="77.63" y="517.40" font-size="11.3" text-anchor="middle" font-weight="normal" fill="#000" color="#000" stroke-width="0.15" >10</text>
<line x1="104.47" y1="504.40" x2="104.47" y2="507.40" stroke="#000" stroke-width="1.5"/>
<text x="104.47" y="517.40" font-size="11.3" text-anchor="middle" font-weight="normal" fill="#000" color="#000" stroke-width="0.15" >20</text>
<line x1="131.30" y1="504.40" x2="131.30" y2="507.40" stroke="#000" stroke-width="1.5"/>
<text x="131.30" y="517.40" font-size="11.3" text-anchor="middle" font-weight="normal" fill="#000" color="#000" stroke-width="0.15" >30</text>
<line x1="158.13" y1="504.40" x2="158.13" y2="507.40" stroke="#000" stroke-width="1.5"/>
<text x="158.13" y="517.40" font-size="11.3" text-anchor="middle" font-weight="normal" fill="#000" color="#000" stroke-width="0.15" >40</text>
<line x1="184.97" y1="504.40" x2="184.97" y2="507.40" stroke="#000" stroke-width="1.5"/>
<text x="184.97" y="517.40" font-size="11.3" text-anchor="middle" font-weight="normal" fill="#000" color="#000" stroke-width="0.15" >50</text>
<line x1="211.80" y1="504.40" x2="211.80" y2="507.40" stroke="#000" stroke-width="1.5"/>
<text x="211.80" y="517.40" font-size="11.3" text-anchor="middle" font-weight="normal" fill="#000" color="#000" stroke-width="0.15" >60</text>
<text x="87.60" y="536.90" font-size="12.3" text-anchor="start" font-weight="normal" fill="#000" color="#000" stroke-width="0.08" >Cycle number (n)</text>
<text x="20.50" y="498.60" font-size="11.9" text-anchor="start" font-weight="normal" fill="#000" color="#000" stroke-width="0.08" transform="rotate(-90 20.5 498.6)">Coulombic efficiency (%)</text>
<text x="8.60" y="365.30" font-size="18.7" text-anchor="start" font-weight="normal" fill="#000" color="#000" stroke-width="0" >(e)</text>
<path d="M273.20,466.00 C273.83,462.80 274.29,459.25 275.10,456.40 C275.78,454.02 276.64,452.09 277.50,450.00 C278.34,447.95 279.29,446.32 280.20,444.00 C281.39,440.95 282.25,436.23 283.80,433.20 C285.09,430.68 286.67,428.65 288.40,426.80 C290.03,425.05 291.93,423.61 293.80,422.30 C295.57,421.06 297.34,419.94 299.30,419.10 C301.33,418.23 303.62,417.88 305.80,417.20 C308.02,416.51 310.24,415.58 312.50,415.00 C314.74,414.42 317.03,414.03 319.30,413.70 C321.53,413.37 323.83,413.06 326.00,413.00 C328.05,412.94 329.87,413.06 332.00,413.30 C334.46,413.58 336.32,414.26 339.90,414.70 C347.34,415.61 362.77,416.30 374.50,417.10 C386.65,417.93 400.97,418.76 411.60,419.60 C419.62,420.23 425.67,420.87 432.70,421.50" fill="none" stroke="#3a3a3a" stroke-width="2"/>
<path d="M432.70,424.30 C423.53,424.17 414.16,423.73 405.20,423.90 C396.61,424.06 387.91,424.54 380.00,425.20 C372.94,425.79 367.32,426.40 360.00,427.50 C350.99,428.86 337.29,431.37 330.00,433.10 C325.74,434.11 323.28,434.75 320.00,436.00 C316.61,437.29 313.09,439.79 310.00,440.80 C307.54,441.61 305.54,441.16 303.10,442.10 C299.88,443.35 295.99,446.98 292.70,448.50 C290.02,449.74 287.25,450.17 285.00,451.00 C283.20,451.67 281.63,451.95 280.20,453.00 C278.59,454.18 277.13,456.02 276.00,458.00 C274.71,460.26 274.13,463.33 273.20,466.00" fill="none" stroke="#3a3a3a" stroke-width="2"/>
<path d="M273.20,464.40 C273.80,460.27 274.23,455.89 275.00,452.00 C275.70,448.47 276.49,445.00 277.50,442.00 C278.37,439.42 279.49,437.05 280.50,435.00 C281.33,433.31 281.93,432.35 283.00,430.50 C284.76,427.47 287.72,421.48 290.20,418.60 C291.96,416.55 293.63,415.30 295.60,414.10 C297.56,412.91 300.15,412.25 302.00,411.40 C303.44,410.74 304.32,410.02 305.80,409.50 C307.68,408.84 310.25,408.45 312.50,408.10 C314.75,407.75 317.06,407.85 319.30,407.40 C321.56,406.95 323.82,405.47 326.00,405.40 C328.05,405.34 329.91,406.03 332.00,406.80 C334.51,407.73 336.49,409.75 339.90,410.90 C345.33,412.72 354.48,413.66 362.10,414.70 C370.12,415.79 377.36,416.48 386.90,417.20 C399.83,418.18 417.43,418.73 432.70,419.50" fill="none" stroke="#f02828" stroke-width="2"/>
<path d="M432.70,419.80 C417.43,420.87 400.15,422.17 386.90,423.00 C376.75,423.64 369.19,423.60 360.00,424.50 C350.25,425.45 337.75,427.67 330.00,428.70 C325.10,429.35 321.55,429.33 318.00,430.20 C315.02,430.94 312.82,431.93 310.00,433.20 C306.65,434.71 302.88,437.29 299.30,438.90 C295.91,440.43 292.33,441.19 289.10,442.70 C285.97,444.17 282.37,445.67 280.20,447.80 C278.35,449.62 277.50,451.75 276.40,454.20 C275.09,457.14 274.27,461.00 273.20,464.40" fill="none" stroke="#f02828" stroke-width="2"/>
<path d="M273.20,472.00 C273.73,467.33 274.11,462.37 274.80,458.00 C275.41,454.10 276.08,450.46 277.00,447.00 C277.84,443.82 278.85,440.97 280.00,438.00 C281.17,434.97 282.42,432.07 284.00,429.00 C285.76,425.59 287.85,421.60 290.20,418.50 C292.39,415.62 295.28,412.82 297.50,410.90 C299.11,409.51 300.60,408.85 302.00,407.70 C303.36,406.58 304.21,404.93 305.80,404.10 C307.61,403.15 310.25,402.82 312.50,402.70 C314.75,402.58 317.08,403.71 319.30,403.40 C321.58,403.08 323.80,400.89 326.00,400.70 C328.03,400.53 329.96,401.09 332.00,402.00 C334.57,403.15 336.41,405.99 339.90,407.70 C345.27,410.33 354.43,412.66 362.10,414.20 C370.07,415.80 377.36,416.22 386.90,417.00 C399.83,418.05 417.43,418.53 432.70,419.30" fill="none" stroke="#1f5fe8" stroke-width="2"/>
<path d="M432.70,419.80 C417.43,421.03 400.14,422.35 386.90,423.50 C376.74,424.38 369.21,425.04 360.00,426.00 C350.27,427.02 337.74,428.37 330.00,429.50 C325.09,430.22 321.56,430.65 318.00,431.60 C315.03,432.39 312.55,433.47 310.00,434.50 C307.60,435.47 305.23,436.13 303.10,437.60 C300.77,439.21 298.90,442.13 296.70,444.00 C294.66,445.73 292.69,447.25 290.40,448.50 C288.03,449.80 284.93,450.33 282.70,451.60 C280.74,452.72 279.00,453.41 277.60,455.50 C275.32,458.90 274.67,466.50 273.20,472.00" fill="none" stroke="#1f5fe8" stroke-width="2"/>
<path d="M273.20,479.60 C273.67,474.73 274.03,469.72 274.60,465.00 C275.14,460.53 275.64,455.78 276.50,452.00 C277.19,448.98 278.14,446.82 279.00,444.00 C279.96,440.86 280.91,437.01 282.00,434.00 C282.93,431.43 283.82,429.55 285.00,427.00 C286.46,423.84 288.19,419.66 290.20,416.50 C292.06,413.57 294.40,410.93 296.50,408.60 C298.33,406.57 300.28,404.64 302.00,403.20 C303.34,402.08 304.27,401.14 305.80,400.50 C307.65,399.72 310.25,399.50 312.50,399.30 C314.75,399.10 317.10,399.81 319.30,399.30 C321.61,398.76 323.78,396.27 326.00,396.00 C328.01,395.75 330.01,396.25 332.00,397.30 C334.65,398.70 336.62,402.67 339.90,404.80 C343.88,407.38 348.71,409.16 354.70,410.90 C363.27,413.39 376.85,415.35 386.90,416.60 C395.65,417.69 403.69,417.94 411.60,418.40 C418.91,418.82 425.67,419.00 432.70,419.30" fill="none" stroke="#1fa050" stroke-width="2"/>
<path d="M432.70,420.00 C417.43,421.17 400.14,422.26 386.90,423.50 C376.74,424.45 369.21,425.42 360.00,426.50 C350.27,427.64 338.91,428.28 330.00,430.20 C322.58,431.79 314.86,434.33 310.00,436.40 C307.02,437.67 305.21,438.47 303.10,440.20 C300.73,442.15 298.90,445.52 296.70,447.80 C294.66,449.91 292.68,452.35 290.40,453.50 C288.40,454.51 285.90,453.85 284.00,454.80 C282.06,455.77 280.31,457.35 278.90,459.30 C277.22,461.63 276.04,464.99 275.10,468.20 C274.07,471.71 273.83,475.80 273.20,479.60" fill="none" stroke="#1fa050" stroke-width="2"/>
<path d="M273.20,494.90 C273.63,490.23 274.02,485.93 274.50,480.90 C275.06,475.03 275.61,467.80 276.40,461.80 C277.11,456.41 278.07,451.29 278.90,446.50 C279.64,442.25 280.19,438.13 281.10,434.50 C281.87,431.40 282.74,428.79 283.80,426.00 C284.87,423.19 286.06,420.21 287.50,417.70 C288.83,415.38 290.47,413.40 292.00,411.40 C293.47,409.48 295.12,407.85 296.50,405.90 C297.92,403.89 299.10,401.68 300.40,399.50 C301.74,397.25 302.90,394.47 304.40,392.60 C305.65,391.03 307.04,389.16 308.50,388.80 C309.76,388.49 311.08,389.40 312.50,389.90 C314.21,390.50 316.37,392.50 318.00,392.30 C319.50,392.11 320.71,390.36 322.00,389.20 C323.38,387.97 324.54,385.45 326.00,385.10 C327.27,384.80 328.63,385.42 330.10,386.50 C332.97,388.60 336.41,395.99 339.90,399.80 C343.02,403.20 346.11,406.23 349.80,408.50 C353.50,410.77 357.20,412.08 362.10,413.40 C368.85,415.22 378.62,416.27 386.90,417.10 C395.12,417.93 403.69,417.99 411.60,418.40 C418.91,418.78 425.67,419.13 432.70,419.50" fill="none" stroke="#a066e0" stroke-width="2"/>
<path d="M432.70,420.10 C423.53,420.53 414.16,420.74 405.20,421.40 C396.61,422.03 387.91,423.07 380.00,423.90 C372.95,424.64 367.33,425.11 360.00,426.10 C351.00,427.31 337.70,429.11 330.00,430.90 C325.05,432.05 321.51,433.01 318.00,434.60 C314.97,435.97 312.30,438.28 310.00,439.50 C308.35,440.38 306.90,440.46 305.60,441.50 C304.12,442.68 303.04,444.40 301.80,446.50 C300.05,449.47 298.49,454.79 296.70,458.00 C295.29,460.52 294.33,462.92 292.30,464.40 C290.16,465.96 286.17,465.86 284.00,466.90 C282.42,467.66 281.31,468.15 280.20,469.50 C278.60,471.45 277.47,474.91 276.40,478.40 C274.99,483.00 274.27,489.40 273.20,494.90" fill="none" stroke="#a066e0" stroke-width="2"/>
<rect x="273" y="374.2" width="160.60000000000002" height="132.0" fill="none" stroke="#000" stroke-width="2"/>
<line x1="271.20" y1="404.14" x2="273.00" y2="404.14" stroke="#000" stroke-width="1"/>
<line x1="271.20" y1="440.06" x2="273.00" y2="440.06" stroke="#000" stroke-width="1"/>
<line x1="271.20" y1="475.99" x2="273.00" y2="475.99" stroke="#000" stroke-width="1"/>
<line x1="299.75" y1="506.20" x2="299.75" y2="508.00" stroke="#000" stroke-width="1"/>
<line x1="353.25" y1="506.20" x2="353.25" y2="508.00" stroke="#000" stroke-width="1"/>
<line x1="406.75" y1="506.20" x2="406.75" y2="508.00" stroke="#000" stroke-width="1"/>
<line x1="270.00" y1="386.18" x2="273.00" y2="386.18" stroke="#000" stroke-width="1.5"/>
<text x="264.60" y="390.38" font-size="13.8" text-anchor="end" font-weight="normal" fill="#000" color="#000" stroke-width="0" >0.15</text>
<line x1="270.00" y1="422.10" x2="273.00" y2="422.10" stroke="#000" stroke-width="1.5"/>
<text x="264.60" y="426.30" font-size="13.8" text-anchor="end" font-weight="normal" fill="#000" color="#000" stroke-width="0" >0.00</text>
<line x1="270.00" y1="458.03" x2="273.00" y2="458.03" stroke="#000" stroke-width="1.5"/>
<text x="264.60" y="462.23" font-size="13.8" text-anchor="end" font-weight="normal" fill="#000" color="#000" stroke-width="0" >-0.15</text>
<line x1="270.00" y1="493.95" x2="273.00" y2="493.95" stroke="#000" stroke-width="1.5"/>
<text x="264.60" y="498.15" font-size="13.8" text-anchor="end" font-weight="normal" fill="#000" color="#000" stroke-width="0" >-0.30</text>
<line x1="273.00" y1="506.20" x2="273.00" y2="509.20" stroke="#000" stroke-width="1.5"/>
<text x="273.00" y="527.30" font-size="13.6" text-anchor="middle" font-weight="normal" fill="#000" color="#000" stroke-width="0" >0.0</text>
<line x1="326.50" y1="506.20" x2="326.50" y2="509.20" stroke="#000" stroke-width="1.5"/>
<text x="326.50" y="527.30" font-size="13.6" text-anchor="middle" font-weight="normal" fill="#000" color="#000" stroke-width="0" >0.5</text>
<line x1="380.00" y1="506.20" x2="380.00" y2="509.20" stroke="#000" stroke-width="1.5"/>
<text x="380.00" y="527.30" font-size="13.6" text-anchor="middle" font-weight="normal" fill="#000" color="#000" stroke-width="0" >1.0</text>
<line x1="433.50" y1="506.20" x2="433.50" y2="509.20" stroke="#000" stroke-width="1.5"/>
<text x="433.50" y="527.30" font-size="13.6" text-anchor="middle" font-weight="normal" fill="#000" color="#000" stroke-width="0" >1.5</text>
<text x="309.10" y="543.90" font-size="13.3" text-anchor="start" font-weight="normal" fill="#000" stroke-width="0" letter-spacing="0.2">E/V (vs.Li/Li<tspan dy="-4.8" font-size="8.2">+</tspan><tspan dy="4.8">)</tspan></text>
<text transform="translate(231.20,508.80) rotate(-90)" x="0" y="0" font-size="13.3" text-anchor="start" font-weight="normal" fill="#000" stroke-width="0" letter-spacing="0.18">Current density (A g<tspan dy="-4.8" font-size="8.2">&#8722;1</tspan><tspan dy="4.8">)</tspan></text>
<text x="229.70" y="366.60" font-size="18.7" text-anchor="start" font-weight="normal" fill="#000" color="#000" stroke-width="0" >(f)</text>
<text x="347.20" y="397.60" font-size="10.3" text-anchor="start" font-weight="bold" fill="#000" color="#000" stroke-width="0.15" >Scan rate:0.1mV/s</text>
<text x="379.50" y="443.40" font-size="13.3" text-anchor="start" font-weight="normal" fill="#000" color="#000" stroke-width="0" >Si/G/C</text>
<line x1="382.00" y1="451.50" x2="404.10" y2="451.50" stroke="#333333" stroke-width="2"/>
<text x="406.00" y="454.60" font-size="9" text-anchor="start" font-weight="normal" fill="#000" color="#000" stroke-width="0.15" >1st</text>
<line x1="382.00" y1="462.55" x2="404.10" y2="462.55" stroke="#ee2a2a" stroke-width="2"/>
<text x="406.00" y="465.65" font-size="9" text-anchor="start" font-weight="normal" fill="#000" color="#000" stroke-width="0.15" >2nd</text>
<line x1="382.00" y1="473.60" x2="404.10" y2="473.60" stroke="#2a62e0" stroke-width="2"/>
<text x="406.00" y="476.70" font-size="9" text-anchor="start" font-weight="normal" fill="#000" color="#000" stroke-width="0.15" >3rd</text>
<line x1="382.00" y1="484.65" x2="404.10" y2="484.65" stroke="#20a050" stroke-width="2"/>
<text x="406.00" y="487.75" font-size="9" text-anchor="start" font-weight="normal" fill="#000" color="#000" stroke-width="0.15" >4th</text>
<line x1="382.00" y1="495.70" x2="404.10" y2="495.70" stroke="#a070e0" stroke-width="2"/>
<text x="406.00" y="498.80" font-size="9" text-anchor="start" font-weight="normal" fill="#000" color="#000" stroke-width="0.15" >5th</text>
</svg></body></html>
